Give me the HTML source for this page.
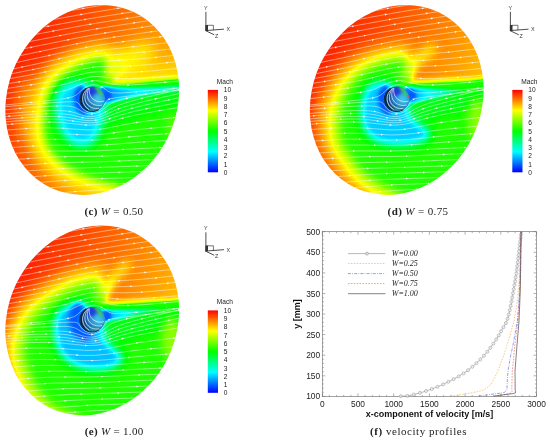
<!DOCTYPE html>
<html><head><meta charset="utf-8"><title>Mach contours and velocity profiles</title>
<style>
html,body{margin:0;padding:0;background:#fff;}
svg{display:block;}
text{font-family:"Liberation Sans",sans-serif;}
.cap{font-family:"Liberation Serif",serif;font-size:11px;fill:#222;}
.leg{font-family:"Liberation Serif",serif;font-style:italic;font-size:8px;fill:#222;}
</style></head><body>
<svg width="550" height="442" viewBox="0 0 550 442">
<defs>
<filter id="cmap" filterUnits="userSpaceOnUse" x="-20" y="-20" width="260" height="260" color-interpolation-filters="sRGB">
<feComponentTransfer>
<feFuncR type="table" tableValues="0 0 0 1 1"/>
<feFuncG type="table" tableValues="0 1 1 1 0"/>
<feFuncB type="table" tableValues="1 1 0 0 0"/>
</feComponentTransfer>
</filter><filter id="b0_6" filterUnits="userSpaceOnUse" x="-60" y="-60" width="340" height="340" color-interpolation-filters="sRGB"><feGaussianBlur stdDeviation="0.6"/></filter><filter id="b0_8" filterUnits="userSpaceOnUse" x="-60" y="-60" width="340" height="340" color-interpolation-filters="sRGB"><feGaussianBlur stdDeviation="0.8"/></filter><filter id="b1" filterUnits="userSpaceOnUse" x="-60" y="-60" width="340" height="340" color-interpolation-filters="sRGB"><feGaussianBlur stdDeviation="1"/></filter><filter id="b1_5" filterUnits="userSpaceOnUse" x="-60" y="-60" width="340" height="340" color-interpolation-filters="sRGB"><feGaussianBlur stdDeviation="1.5"/></filter><filter id="b2" filterUnits="userSpaceOnUse" x="-60" y="-60" width="340" height="340" color-interpolation-filters="sRGB"><feGaussianBlur stdDeviation="2"/></filter><filter id="b2_5" filterUnits="userSpaceOnUse" x="-60" y="-60" width="340" height="340" color-interpolation-filters="sRGB"><feGaussianBlur stdDeviation="2.5"/></filter><filter id="b3" filterUnits="userSpaceOnUse" x="-60" y="-60" width="340" height="340" color-interpolation-filters="sRGB"><feGaussianBlur stdDeviation="3"/></filter><filter id="b3_5" filterUnits="userSpaceOnUse" x="-60" y="-60" width="340" height="340" color-interpolation-filters="sRGB"><feGaussianBlur stdDeviation="3.5"/></filter><filter id="b4" filterUnits="userSpaceOnUse" x="-60" y="-60" width="340" height="340" color-interpolation-filters="sRGB"><feGaussianBlur stdDeviation="4"/></filter><filter id="b4_5" filterUnits="userSpaceOnUse" x="-60" y="-60" width="340" height="340" color-interpolation-filters="sRGB"><feGaussianBlur stdDeviation="4.5"/></filter><filter id="b5" filterUnits="userSpaceOnUse" x="-60" y="-60" width="340" height="340" color-interpolation-filters="sRGB"><feGaussianBlur stdDeviation="5"/></filter><filter id="b6" filterUnits="userSpaceOnUse" x="-60" y="-60" width="340" height="340" color-interpolation-filters="sRGB"><feGaussianBlur stdDeviation="6"/></filter><filter id="b7" filterUnits="userSpaceOnUse" x="-60" y="-60" width="340" height="340" color-interpolation-filters="sRGB"><feGaussianBlur stdDeviation="7"/></filter><filter id="b8" filterUnits="userSpaceOnUse" x="-60" y="-60" width="340" height="340" color-interpolation-filters="sRGB"><feGaussianBlur stdDeviation="8"/></filter><filter id="b9" filterUnits="userSpaceOnUse" x="-60" y="-60" width="340" height="340" color-interpolation-filters="sRGB"><feGaussianBlur stdDeviation="9"/></filter><filter id="b10" filterUnits="userSpaceOnUse" x="-60" y="-60" width="340" height="340" color-interpolation-filters="sRGB"><feGaussianBlur stdDeviation="10"/></filter><filter id="b12" filterUnits="userSpaceOnUse" x="-60" y="-60" width="340" height="340" color-interpolation-filters="sRGB"><feGaussianBlur stdDeviation="12"/></filter><filter id="b14" filterUnits="userSpaceOnUse" x="-60" y="-60" width="340" height="340" color-interpolation-filters="sRGB"><feGaussianBlur stdDeviation="14"/></filter><filter id="b16" filterUnits="userSpaceOnUse" x="-60" y="-60" width="340" height="340" color-interpolation-filters="sRGB"><feGaussianBlur stdDeviation="16"/></filter><radialGradient id="sphg" cx="0.66" cy="0.5" r="0.78"><stop offset="0" stop-color="#34a8e0"/><stop offset="0.5" stop-color="#2878cc"/><stop offset="1" stop-color="#123470"/></radialGradient><clipPath id="sphc"><circle r="12.5"/></clipPath><clipPath id="disk"><ellipse cx="92.25" cy="99.9" rx="97.2" ry="84.4" transform="rotate(-64.7 92.25 99.9)"/></clipPath><linearGradient id="cbar" x1="0" y1="0" x2="0" y2="1">
<stop offset="0" stop-color="#f00"/><stop offset="0.25" stop-color="#ff0"/><stop offset="0.5" stop-color="#0f0"/><stop offset="0.75" stop-color="#0ff"/><stop offset="1" stop-color="#00f"/></linearGradient><linearGradient id="basec" gradientUnits="userSpaceOnUse" x1="20" y1="10" x2="185" y2="95"><stop offset="0" stop-color="#fcfcfc"/><stop offset="1" stop-color="#cccccc"/></linearGradient><mask id="Kc" maskUnits="userSpaceOnUse" x="-20" y="-20" width="270" height="280"><rect x="-20" y="-20" width="270" height="280" fill="#fff"/><path d="M96 85.3L105 85L125 84.4L160 80.9L178 79.3L232 74.8L232 36L117.8 62L114.4 73L111.5 82Z" fill="#000" filter="url(#b2_5)"/><path d="M91 86.8L96 85.3L105 85L125 84.4L160 80.9L178 79.3L232 74.8L232 112L91 112Z" fill="#fff"/></mask><linearGradient id="wkc" gradientUnits="userSpaceOnUse" x1="104" y1="0" x2="182" y2="0"><stop offset="0.000" stop-color="#212121"/><stop offset="0.410" stop-color="#3b3b3b"/><stop offset="0.846" stop-color="#4f4f4f"/><stop offset="1.000" stop-color="#595959"/></linearGradient><linearGradient id="based" gradientUnits="userSpaceOnUse" x1="20" y1="10" x2="185" y2="95"><stop offset="0" stop-color="#fcfcfc"/><stop offset="1" stop-color="#cccccc"/></linearGradient><mask id="Kd" maskUnits="userSpaceOnUse" x="-20" y="-20" width="270" height="280"><rect x="-20" y="-20" width="270" height="280" fill="#fff"/><path d="M93.6 85.3L103 84.4L115 83.6L160.5 81.5L176.5 79.6L232 74L232 36L114 61L107 73L104.5 82Z" fill="#000" filter="url(#b2_5)"/><path d="M88.6 86.8L93.6 85.3L103 84.4L115 83.6L160.5 81.5L176.5 79.6L232 74L232 112L88.6 112Z" fill="#fff"/></mask><linearGradient id="wkd" gradientUnits="userSpaceOnUse" x1="104" y1="0" x2="158" y2="0"><stop offset="0.000" stop-color="#212121"/><stop offset="0.296" stop-color="#3b3b3b"/><stop offset="0.667" stop-color="#525252"/><stop offset="1.000" stop-color="#757575"/></linearGradient><linearGradient id="basee" gradientUnits="userSpaceOnUse" x1="20" y1="10" x2="185" y2="95"><stop offset="0" stop-color="#fcfcfc"/><stop offset="1" stop-color="#cccccc"/></linearGradient><mask id="Ke" maskUnits="userSpaceOnUse" x="-20" y="-20" width="270" height="280"><rect x="-20" y="-20" width="270" height="280" fill="#fff"/><path d="M93.6 84L105 84L114.5 83.9L125 83.5L160 81.3L176.8 80L232 76.5L232 36L109.8 62L106 72.6L104 81Z" fill="#000" filter="url(#b2_5)"/><path d="M88.6 85.5L93.6 84L105 84L114.5 83.9L125 83.5L160 81.3L176.8 80L232 76.5L232 112L88.6 112Z" fill="#fff"/></mask><linearGradient id="wke" gradientUnits="userSpaceOnUse" x1="104" y1="0" x2="160" y2="0"><stop offset="0.000" stop-color="#262626"/><stop offset="0.375" stop-color="#404040"/><stop offset="0.732" stop-color="#5c5c5c"/><stop offset="1.000" stop-color="#7a7a7a"/></linearGradient>
</defs>
<rect width="550" height="442" fill="#fff"/>
<g transform="translate(0 0)">
<g clip-path="url(#disk)">
<g filter="url(#cmap)">
<rect x="-20" y="-20" width="270" height="280" fill="url(#basec)"/>
<ellipse cx="27" cy="108" rx="9" ry="32" fill="#d6d6d6" opacity="0.9" filter="url(#b8)"/>
<path d="M103.2 42.5C99.8 41.7 98.1 42.7 95.4 43.1C92.7 43.5 90.3 44 87 44.9C83.7 45.8 79.6 47 75.6 48.7C71.7 50.4 67.5 52.6 63.5 55.1C59.4 57.5 55.1 60.1 51.2 63.3C47.4 66.5 43.5 70.1 40.4 74.2C37.3 78.2 34.6 82.8 32.6 87.5C30.6 92.2 29.4 97.4 28.3 102.2C27.3 107 26.7 111.6 26.3 116.4C25.9 121.1 25.6 126 25.9 130.8C26.3 135.6 27.2 140.3 28.5 144.9C29.9 149.5 31.5 154.1 34.3 158.5C37 162.9 41.1 167.5 44.9 171.4C48.8 175.2 52.9 178.6 57.3 181.7C61.8 184.8 66.7 187.6 71.7 190C76.8 192.3 82.5 194.2 87.4 195.9C92.3 197.6 97 199 101 200.1C105.1 201.2 108.1 201.2 111.9 202.7C115.6 204.2 116.6 203.7 123.5 208.8C130.3 214 134.9 226.6 153 233.5C171 240.3 218.8 277.9 232 250C245.2 222.1 242.3 97 232 66C221.7 35 187 65.3 170 64C153 62.7 139 60.7 130 58C121 55.3 120.5 50.6 116 48C111.5 45.4 106.6 43.3 103.2 42.5Z" fill="#c9c9c9" opacity="1" filter="url(#b6)"/>
<ellipse cx="128" cy="60" rx="30" ry="13" transform="rotate(-25 128 60)" fill="#c2c2c2" filter="url(#b7)"/>
<ellipse cx="116" cy="68" rx="10" ry="8" transform="rotate(-20 116 68)" fill="#bababa" filter="url(#b4)"/>
<ellipse cx="140" cy="80" rx="36" ry="2.2" transform="rotate(-4.3 140 80)" fill="#bfbfbf" filter="url(#b2)"/>
<path d="M103.9 52.4C101.9 51.6 99.2 52.6 96.8 52.9C94.5 53.3 92.6 53.6 89.7 54.4C86.8 55.3 83.1 56.3 79.6 57.8C76 59.3 72.2 61.4 68.5 63.6C64.9 65.7 60.9 68.2 57.5 70.9C54.1 73.7 50.9 76.8 48.2 80.2C45.6 83.6 43.4 87.4 41.7 91.4C40 95.4 38.9 100 38 104.3C37.1 108.6 36.6 112.9 36.2 117.2C35.8 121.5 35.5 125.9 35.8 130.1C36.1 134.2 36.9 138.2 38 142.1C39.2 146 40.4 149.6 42.7 153.3C45 157 48.5 161 51.9 164.4C55.3 167.8 59 170.8 63 173.6C67 176.4 71.3 178.8 75.9 181C80.5 183.2 86 184.9 90.6 186.5C95.3 188.1 99.5 189.4 103.7 190.6C107.9 191.7 111.3 191.8 115.6 193.5C119.9 195.2 122.1 195.5 129.3 200.9C136.6 206.3 142.2 217.7 159.3 225.8C176.4 234 219.9 273.3 232 250C244.1 226.7 242.3 112.7 232 86C221.7 59.3 187 89 170 90C153 91 139.5 92.7 130 92C120.5 91.3 116.3 89.3 113 86C109.7 82.7 110.7 76.7 110 72C109.3 67.3 110 61.3 109 58C108 54.7 105.9 53.3 103.9 52.4Z" fill="#b8b8b8" opacity="0.85" filter="url(#b4_5)"/>
<g filter="url(#b0_6)">
<g mask="url(#Kc)">
<path d="M104.8 67C105 69.3 105.8 70.5 105.4 73C105 75.5 104.1 80 102.5 82C100.9 84 95.4 85.7 96 85.3C96.6 84.9 101 81.1 106 79.5C111 77.9 114 77 126 75.5C138 74 160.3 72.1 178 70.5C195.7 68.9 223 36.1 232 66C241 95.9 243.2 224.4 232 250C220.8 275.6 181 228.6 164.7 219.3C148.5 210 142.1 199.7 134.4 194C126.7 188.4 123.5 187.6 118.8 185.6C114 183.7 110.2 183.6 106 182.4C101.8 181.2 97.8 180 93.4 178.5C89 177 83.8 175.3 79.5 173.3C75.3 171.3 71.4 169.1 67.8 166.6C64.2 164.1 60.9 161.3 57.9 158.4C54.9 155.4 51.8 151.9 49.9 148.8C47.9 145.7 47.1 142.9 46.2 139.7C45.3 136.5 44.5 133.1 44.3 129.5C44 125.8 44.3 121.8 44.7 117.9C45 114 45.6 109.9 46.3 106C47.1 102.1 47.9 98.1 49.2 94.6C50.6 91.1 52.3 88 54.5 85.1C56.7 82.1 59.4 79.4 62.3 76.8C65.3 74.3 68.9 71.9 72.3 69.8C75.6 67.7 79.2 65.8 82.4 64.3C85.6 62.9 89 61.9 91.6 61.1C94.2 60.3 95.7 60 97.8 59.6C99.9 59.3 103.2 57.8 104.4 59C105.6 60.2 104.6 64.7 104.8 67Z" fill="#878787" filter="url(#b3_5)"/>
<path d="M100 100L150 92L182 88L182 104L150 112L120 122L100 124Z" fill="#737373" opacity="0.6" filter="url(#b5)"/>
<path d="M97 89C95.8 88.5 94.7 87.8 93 87C91.3 86.2 89.2 85.2 87 84.5C84.8 83.8 82.7 82.8 80 82.5C77.3 82.2 73.8 81.8 71 82.5C68.2 83.2 65.2 84.7 63 86.5C60.8 88.3 59.2 91.1 58 93.5C56.8 95.9 56.2 97.6 56 101C55.8 104.4 55.8 109.7 56.5 114C57.2 118.3 58.2 122.8 60 127C61.8 131.2 64.3 135.8 67.5 139C70.7 142.2 75.2 145.2 79 146C82.8 146.8 87 145.7 90 144C93 142.3 95.2 139.2 97 136C98.8 132.8 99.8 128.7 101 125C102.2 121.3 103.5 117.2 104 114C104.5 110.8 104.7 108.7 104 106C103.3 103.3 100.7 100.7 100 98C99.3 95.3 100.5 91.5 100 90C99.5 88.5 98.2 89.5 97 89Z" fill="#666666" opacity="0.55" filter="url(#b8)"/>
<path d="M97 89C95.8 88.5 94.7 87.8 93 87C91.3 86.2 89.2 85.2 87 84.5C84.8 83.8 82.7 82.8 80 82.5C77.3 82.2 73.8 81.8 71 82.5C68.2 83.2 65.2 84.7 63 86.5C60.8 88.3 59.2 91.1 58 93.5C56.8 95.9 56.2 97.6 56 101C55.8 104.4 55.8 109.7 56.5 114C57.2 118.3 58.2 122.8 60 127C61.8 131.2 64.3 135.8 67.5 139C70.7 142.2 75.2 145.2 79 146C82.8 146.8 87 145.7 90 144C93 142.3 95.2 139.2 97 136C98.8 132.8 99.8 128.7 101 125C102.2 121.3 103.5 117.2 104 114C104.5 110.8 104.7 108.7 104 106C103.3 103.3 100.7 100.7 100 98C99.3 95.3 100.5 91.5 100 90C99.5 88.5 98.2 89.5 97 89Z" fill="#363636" filter="url(#b4)"/>
<path d="M100 87.3C103.3 84.5 114 87.4 120 87.5C126 87.6 130.7 87.8 136 87.8C141.3 87.8 146.6 87.5 152 87.3C157.4 87 163.6 86.6 168.6 86.3C173.6 86 179.8 84.7 182 85.4C184.2 86.1 184.2 89.4 182 90.5C179.8 91.6 173.6 91.4 168.6 92C163.6 92.6 157.4 93.5 152 94.3C146.6 95.1 141.4 96 136 97C130.6 98 124.7 99.3 119.5 100.5C114.3 101.7 108.2 103.3 105 104C101.8 104.7 100.8 107.3 100 104.5C99.2 101.7 96.7 90.1 100 87.3Z" fill="url(#wkc)" filter="url(#b1_5)"/>
<path d="M81.0 88.6A15.5 15.5 0 0 0 83.6 111.7" fill="none" stroke="#141414" stroke-width="7" stroke-linecap="round" filter="url(#b2)"/>
<ellipse cx="107" cy="95.5" rx="4.5" ry="5" fill="#171717" filter="url(#b1_5)"/>
<ellipse cx="174" cy="128" rx="6" ry="14" fill="#989898" filter="url(#b5)"/>
</g>
</g>
</g>
<path d="M65.5 11.5L110.5 3.8M50.5 20L89.5 13L125.5 7.1M41.5 27.4L90.5 18.5L136.5 11.2M33.5 34.8L70.5 27.8L91.5 24L112.5 20.6L144.5 15.7M27.5 42L71.5 33.4L92.5 29.5L114.5 25.9L150.5 20.4M22.5 49L73.5 38.7L92.5 35.1L115.5 31.3L155.5 25.3M18.5 56L75.5 44L93.5 40.5L114.5 37.1L160.5 30.4M14.5 62.9L39.5 57.6L77.5 49.2L94.5 45.9L111.5 43.2L164.4 36.3M11.5 69.3L40.5 63.1L77.5 54.6L91.5 51.8L106.4 49.7L142.4 45.7L168.4 42.5M9.5 74.2L40.5 68L77.4 59.7L90.4 57.3L105.4 55.5L145.4 51.9L172.4 48.8M8.5 78.9L38.5 73.4L52.5 70.5L78.4 64.7L91.4 62.4L103.4 61.2L127.3 59.8L141.3 58.7L156.3 57.3L175.3 55.2M6.5 83.9L27.5 80.4L44.5 77.3L59.5 74.2L81.3 69.2L91.3 67.5L96.3 66.9L102.3 66.6L124.2 66.1L137.2 65.5L154.2 64.1L177.2 61.7M5.5 88.7L32.5 84.6L51.5 81.3L64.4 78.6L83.2 73.8L88.2 72.8L92.2 72.2L96.2 71.9L101.2 71.7L121 72.3L133.9 72.1L151.9 70.9L178.9 68.3M4.5 93.6L37.5 89.1L56.5 86L67.4 83.5L85 78.1L89 77.2L92 76.8L96 76.5L99.9 76.6L117.6 78.5L123.5 78.7L129.5 78.7L137.5 78.4L148.4 77.7L179.4 75.1M4.5 98.9L43.5 94.2L53.5 92.8L61.5 91.3L66.4 90.2L71.3 88.6L81.7 83.9L85.5 82.4L89.4 81.3L92.4 80.8L95.4 80.7L99.4 81L103.2 81.8L109.8 83.5L113.6 84.3L118.5 84.9L124.4 85.1L132.4 84.9L143.4 84.2L180.4 80.9M3.5 105.2L51.5 100.3L62.5 98.9L69.5 97.6L73.4 96.4L76.1 95L77.8 93.7L82.4 89.4L85.8 87L89.6 85.4L92.6 84.8L95.6 84.8L97.5 85.2L99.4 85.7L102.8 87.4L107.4 90.8L109 91.8L111.8 92.7L115.7 93L122.7 92.9L132.7 92.1L180.7 87.6M3.5 106.9L30.5 104.4L48.5 102.9L66.5 101.8L74.5 101.7L76.4 102L78.1 102.9L82.2 108.3L83.7 109.6L85.3 110.6L87.1 111.4L88.9 111.9L90.9 112.2L92.9 112.1L94.9 111.8L96.8 111.1L98.7 110.2L100.4 109L101.9 107.6L103.3 106L106.8 100.8L108.4 99.5L110.3 98.8L115.3 97.8L124.3 96.6L181.3 89.9M3.5 110L27.5 107.8L43.5 106.6L57.5 105.9L66.5 105.9L70.4 106.3L74.2 107.2L76.9 108.4L82.8 111.9L86.4 113.3L90.3 114L93.2 113.8L96.2 113.2L100 111.6L102.7 109.8L107.7 105.8L110.3 103.9L114.1 102L118 100.7L125 98.8L136 96.3L181 87.4M3.5 114L24.5 112.2L38.5 111.2L50.5 110.6L59.5 110.6L66.4 111L71.3 111.8L75.1 112.8L82.5 115.3L86.4 116.3L90.3 116.6L94.3 116.3L97.3 115.6L100.2 114.6L104 112.8L110.5 109L114.3 107.1L119.2 105L125.1 103L133.1 100.7L144.1 97.8L181.1 89M3.5 116.7L35.5 114.1L46.5 113.6L56.5 113.5L63.4 113.9L69.3 114.6L73.2 115.3L81.8 117.5L85.7 118.2L89.7 118.6L93.7 118.4L97.6 117.6L101.6 116.4L117 109.4L122.9 107.3L128.9 105.5L147.8 100.6L180.8 93.2M3.5 119.4L33.5 117L44.5 116.5L53.5 116.5L60.5 116.7L67.4 117.3L82 119.9L85.9 120.5L90.9 120.6L94.9 120.3L97.9 119.8L101.8 118.7L119.4 112L131.3 108.4L150.3 103.8L180.3 97.5M4.5 121.9L32.5 119.8L42.5 119.3L50.5 119.2L58.5 119.4L65.4 119.9L81.1 122.2L86.1 122.7L91.1 122.8L95.1 122.5L99.1 121.8L103 120.8L120.7 115L133.7 111.5L151.6 107.7L179.6 102.3M4.5 124.7L30.5 122.7L40.5 122.3L48.5 122.1L56.5 122.3L63.4 122.7L85.2 125L90.2 125.1L95.2 124.8L99.2 124.3L104.1 123.3L122.9 118L135.9 115L153.9 111.6L179.9 107.2M5.5 130.1L29.5 128.3L46.5 127.7L60.4 128.1L84.3 129.8L90.3 129.9L95.3 129.7L100.3 129.2L105.3 128.5L126.2 124.3L139.1 122.1L155.1 119.9L177.1 117.2M6.5 135.7L30.5 134L46.5 133.4L59.5 133.6L84.4 134.9L90.4 134.9L96.4 134.7L107.4 133.7L128.3 130.8L141.3 129.2L156.3 127.7L174.3 126.2M8.5 141.6L30.5 140L46.5 139.4L59.5 139.4L84.4 140.2L97.4 139.9L108.4 139.1L143.4 135.5L171.3 133.3M10.5 147.6L32.5 146L48.5 145.3L60.5 145.2L85.4 145.5L99.4 145.2L110.4 144.5L144.4 141.8L168.4 140.4M13.5 153.5L32.5 152.1L47.5 151.3L59.5 151L85.5 151L99.5 150.7L164.4 147.4M16.5 159.4L37.5 157.9L53.5 157L64.5 156.7L101.5 156.2L160.4 153.5M20.5 165.3L42.5 163.7L59.5 162.8L105.5 161.6L155.5 159.5M25.5 171.1L50.5 169.3L67.5 168.3L110.5 167L150.5 165.5M31.5 176.8L58.5 174.8L75.5 173.8L144.5 171.4M38.5 182.5L66.5 180.3L82.5 179.3L137.5 177.4M47.5 187.9L88.5 184.8L102.5 184.1L128.5 183.3M59.5 192.9L92.5 190.3L116.5 189.2" fill="none" stroke="#fff" stroke-width="0.85" stroke-opacity="0.55"/>
<path d="M84.8 8.1L82.7 9.4L82.3 7.6ZM82.8 14.2L80.7 15.5L80.3 13.6ZM119.8 8L117.6 9.3L117.3 7.4ZM49.8 25.9L47.7 27.2L47.3 25.4ZM86.8 19.2L84.7 20.5L84.3 18.6ZM123.8 13.1L121.6 14.4L121.3 12.5ZM54.8 30.8L52.7 32.1L52.3 30.2ZM91.8 24L89.7 25.3L89.3 23.4ZM128.8 18.1L126.6 19.4L126.3 17.5ZM61.7 35.3L59.7 36.6L59.3 34.8ZM98.8 28.4L96.6 29.8L96.3 27.9ZM135.8 22.6L133.6 23.9L133.3 22ZM32.7 47L30.7 48.4L30.3 46.5ZM69.7 39.5L67.7 40.9L67.3 39ZM106.7 32.7L104.6 34L104.3 32.1ZM143.7 27.1L141.6 28.4L141.3 26.5ZM41.7 51.2L39.7 52.6L39.3 50.7ZM78.7 43.4L76.7 44.7L76.3 42.9ZM115.7 36.9L113.6 38.2L113.3 36.3ZM152.7 31.6L150.6 32.8L150.3 30.9ZM50.7 55.1L48.7 56.6L48.3 54.7ZM87.7 47.1L85.6 48.5L85.3 46.6ZM124.7 41.5L122.6 42.7L122.3 40.8ZM161.7 36.7L159.6 37.9L159.3 36ZM23.7 66.7L21.7 68.1L21.3 66.3ZM60.7 58.5L58.7 59.9L58.3 58.1ZM97.7 50.8L95.6 52.1L95.3 50.2ZM134.7 46.6L132.5 47.8L132.3 45.9ZM34.7 69.2L32.7 70.6L32.3 68.7ZM71.7 61L69.7 62.4L69.2 60.6ZM108.7 55.2L106.5 56.3L106.3 54.4ZM145.7 51.9L143.5 53.1L143.3 51.2ZM46.7 71.7L44.7 73.1L44.3 71.2ZM83.7 63.7L81.6 65L81.2 63.2ZM120.6 60.2L118.4 61.3L118.3 59.4ZM157.6 57.2L155.4 58.4L155.2 56.5ZM20.8 81.5L18.7 82.9L18.3 81ZM57.7 74.6L55.7 76L55.3 74.1ZM94.6 67.1L92.4 68.3L92.2 66.4ZM131.5 65.8L129.2 66.9L129.1 65ZM168.4 62.7L166.3 63.8L166.1 62ZM32.8 84.6L30.6 85.9L30.3 84ZM69.6 77.3L67.6 78.8L67.2 76.9ZM106.5 71.8L104.1 72.7L104.2 70.8ZM143.2 71.5L141 72.6L140.9 70.7ZM44.8 88L42.6 89.3L42.3 87.4ZM81.3 79.1L79.4 80.7L78.8 78.9ZM117.9 78.5L115.5 79.3L115.7 77.4ZM154.7 77.2L152.5 78.4L152.4 76.5ZM20.8 97L18.6 98.2L18.4 96.3ZM57.8 92.1L55.6 93.4L55.3 91.5ZM93.7 80.7L91.5 81.9L91.3 80ZM129.7 85L127.4 86L127.4 84.1ZM166.7 82.2L164.5 83.3L164.3 81.4ZM32.8 102.3L30.6 103.4L30.4 101.5ZM69.7 97.6L67.7 99L67.3 97.1ZM103.1 87.6L100.7 87.3L101.6 85.7ZM138 91.7L135.8 92.8L135.6 90.9ZM175 88.1L172.8 89.3L172.6 87.4ZM45.8 103.1L43.6 104.2L43.4 102.3ZM110.6 98.7L108.7 100.4L108.1 98.6ZM147.6 93.8L145.4 95.1L145.2 93.2ZM21.8 108.3L19.6 109.5L19.4 107.6ZM58.8 105.9L56.5 106.9L56.5 105ZM93.5 113.8L91.3 114.9L91.2 113ZM128.2 98L126.2 99.5L125.8 97.6ZM165.2 90.4L163.2 91.8L162.8 90ZM34.8 111.4L32.6 112.5L32.4 110.6ZM71.6 111.9L69.2 112.3L69.6 110.5ZM106.9 111.1L105.4 113.1L104.4 111.4ZM143.3 98L141.3 99.5L140.9 97.7ZM180.3 89.2L178.3 90.7L177.9 88.8ZM10.8 116L8.6 117.2L8.4 115.3ZM47.8 113.6L45.5 114.6L45.5 112.7ZM84.1 118L81.6 118.4L82 116.6ZM120.1 108.2L118.3 109.9L117.6 108.2ZM157.1 98.5L155.1 99.9L154.6 98.1ZM23.8 117.7L21.6 118.8L21.4 116.9ZM60.8 116.7L58.4 117.5L58.5 115.6ZM97.2 119.9L95.1 121.3L94.8 119.4ZM133.6 107.8L131.6 109.3L131.1 107.5ZM170.6 99.5L168.5 100.9L168.1 99.1ZM37.8 119.5L35.5 120.6L35.5 118.7ZM74.6 121.2L72.2 121.8L72.5 119.9ZM111.1 118.2L109.2 119.9L108.6 118.1ZM147.9 108.4L145.8 109.8L145.4 107.9ZM13.8 123.9L11.6 125.1L11.4 123.2ZM50.8 122.1L48.5 123.1L48.5 121.2ZM87.5 125.1L85.1 126L85.2 124.1ZM124.2 117.7L122.2 119.2L121.7 117.3ZM161.1 110.3L159 111.6L158.7 109.8ZM27.8 128.4L25.6 129.5L25.4 127.6ZM64.7 128.3L62.4 129.1L62.5 127.2ZM101.6 129L99.4 130.3L99.2 128.4ZM138.4 122.2L136.3 123.5L136 121.6ZM175.4 117.4L173.2 118.6L173 116.7ZM41.8 133.5L39.5 134.5L39.5 132.6ZM78.7 134.7L76.4 135.5L76.5 133.6ZM115.6 132.6L113.5 133.9L113.2 132ZM152.6 128.1L150.4 129.2L150.2 127.3ZM19.8 140.8L17.6 141.9L17.4 140ZM56.8 139.4L54.5 140.3L54.5 138.4ZM93.7 140.1L91.4 141.1L91.4 139.2ZM130.7 136.7L128.5 137.9L128.3 136ZM167.6 133.6L165.4 134.7L165.3 132.8ZM34.8 145.9L32.5 147L32.4 145.1ZM71.8 145.4L69.4 146.3L69.5 144.4ZM108.7 144.7L106.5 145.8L106.4 143.9ZM145.7 141.8L143.5 142.9L143.3 141ZM50.8 151.2L48.5 152.2L48.5 150.3ZM87.8 151L85.5 151.9L85.5 150ZM124.7 149.4L122.5 150.5L122.4 148.6ZM161.7 147.5L159.5 148.5L159.4 146.6ZM29.8 158.4L27.6 159.5L27.4 157.6ZM66.8 156.7L64.5 157.7L64.5 155.8ZM103.8 156.1L101.5 157.1L101.4 155.2ZM140.8 154.3L138.5 155.4L138.4 153.5ZM46.8 163.4L44.5 164.5L44.4 162.6ZM83.8 162.1L81.5 163.1L81.5 161.2ZM120.8 161L118.5 162L118.4 160.1ZM64.8 168.5L62.5 169.5L62.4 167.6ZM101.8 167.3L99.5 168.3L99.5 166.4ZM138.8 165.9L136.5 167L136.4 165.1ZM46.8 175.7L44.6 176.8L44.4 174.9ZM83.8 173.5L81.5 174.5L81.5 172.6ZM120.8 172.3L118.5 173.4L118.5 171.5ZM66.8 180.3L64.6 181.4L64.4 179.5ZM103.8 178.5L101.5 179.5L101.5 177.6ZM88.8 184.8L86.5 185.9L86.4 184ZM125.8 183.4L123.5 184.4L123.5 182.5ZM76.8 191.5L74.6 192.6L74.4 190.7ZM113.8 189.3L111.5 190.3L111.5 188.4Z" fill="#fff" fill-opacity="0.95"/>
</g>
<g transform="translate(92.5 99.0)">
<circle r="12.5" fill="url(#sphg)"/>
<g clip-path="url(#sphc)">
<ellipse cx="-1.5" cy="-7.5" rx="5.5" ry="4.5" fill="#1f36e0" opacity="0.85" filter="url(#b1_5)"/>
<ellipse cx="6.5" cy="0.5" rx="5" ry="6" fill="#3fd0ea" opacity="0.75" filter="url(#b2)"/>
<ellipse cx="0" cy="9.5" rx="9" ry="3.6" fill="#2a8f9f" opacity="0.75" filter="url(#b1_5)"/>
<path d="M3.2 -12.5C6 -10 8 -7 9.2 -3.5" stroke="#42d84a" stroke-width="3.2" fill="none" opacity="0.85" filter="url(#b1)"/>
<g stroke="#06141c" fill="none" opacity="0.75">
<path d="M-6 -10.6C-13.6 -4.5 -13 7 -4.5 11.6" stroke-width="1.5"/>
<path d="M-4.6 -10.4C-10.6 -4.4 -10.4 5.4 -2.4 9.8" stroke-width="0.9" opacity="0.8"/>
<path d="M-4 -10.6C-8.2 -4 -7.6 3.6 -0.4 7.2" stroke-width="0.7" opacity="0.55"/>
</g>
<g stroke="#fff" stroke-width="0.7" fill="none" opacity="0.9">
<path d="M-5 -10.2C-12 -4.8 -11.6 6 -3.4 10.6"/>
<path d="M-4.4 -10.6C-9.4 -4 -8.8 4.6 -1.2 8.4C1.6 9.6 4.2 9.8 6.4 9.2"/>
<path d="M-3.8 -10.9C-6.6 -4 -5.6 2.6 1.6 5.6C4.6 6.7 7.4 6.7 9.6 6"/>
<path d="M-3.2 -11.1C-3.8 -5 -2 0 4.6 2.2C7.4 3 9.8 2.8 11.6 2"/>
</g>
</g>
<path d="M-6.62 -10.60A12.5 12.5 0 1 0 6.25 10.83" fill="none" stroke="#0a1a22" stroke-width="1" opacity="0.8"/>
</g>
<g stroke="#3a3a3a" stroke-width="0.9" fill="none" stroke-linecap="round">
<path d="M205.9 30.6V12.2M208 30.4L223.6 29.2M205.9 30.8L213.9 34.6"/>
<path d="M207.6 25.3h5.8v4.6" stroke-width="0.7"/>
</g>
<path d="M205.4 25h2.6v6h-2.6z" fill="#333"/>
<g font-size="5.4" fill="#3a3a3a" text-anchor="middle"><text x="205.9" y="9.6">Y</text><text x="228.2" y="31.1">X</text><text x="216.6" y="37.9">Z</text></g>
<rect x="207.8" y="89.9" width="10.2" height="82.4" fill="url(#cbar)"/>
<text x="224.8" y="83.8" font-size="6.6" text-anchor="middle" fill="#222">Mach</text>
<g font-size="6.6" fill="#222">
<text x="223.8" y="174.9">0</text>
<text x="223.8" y="166.6">1</text>
<text x="223.8" y="158.4">2</text>
<text x="223.8" y="150.1">3</text>
<text x="223.8" y="141.9">4</text>
<text x="223.8" y="133.6">5</text>
<text x="223.8" y="125.3">6</text>
<text x="223.8" y="117.1">7</text>
<text x="223.8" y="108.8">8</text>
<text x="223.8" y="100.6">9</text>
<text x="223.8" y="92.3">10</text>
</g>
</g>
<g transform="translate(304.5 0)">
<g clip-path="url(#disk)">
<g filter="url(#cmap)">
<rect x="-20" y="-20" width="270" height="280" fill="url(#based)"/>
<path d="M106.5 46.3C104.3 44.9 99.3 43.8 95.2 43.6C91 43.4 85.9 44.4 81.6 45.2C77.3 45.9 73.3 47 69.5 48.2C65.6 49.4 62.1 51 58.5 52.6C55 54.3 51.4 56.2 48.2 58.2C45.1 60.3 42.2 62.7 39.4 65.1C36.7 67.5 34.2 69.8 31.8 72.5C29.4 75.1 27.1 78 25.2 81C23.2 83.9 21.6 87.1 20.1 90.2C18.7 93.3 17.4 96.5 16.4 99.7C15.5 102.9 15 106.1 14.6 109.2C14.2 112.4 14.1 115.5 14.1 118.6C14 121.7 14 124.5 14.3 127.8C14.6 131 14.8 134.1 15.8 138.3C16.8 142.5 18.2 148.4 20.4 152.9C22.6 157.4 26.2 161.2 29.3 165.4C32.4 169.6 35.2 173.9 38.8 177.9C42.4 181.9 47.1 186.2 50.9 189.3C54.7 192.4 58.1 194.2 61.6 196.4C65.1 198.6 67.9 200.4 71.9 202.5C75.9 204.6 78.3 205.4 85.6 209C92.9 212.6 103.9 218.1 115.5 223.9C127.2 229.8 136.1 239.6 155.5 243.9C174.9 248.3 219.3 275.3 232 250C244.7 224.7 242.3 118.7 232 92C221.7 65.3 187 90.3 170 90C153 89.7 140.3 90.7 130 90C119.7 89.3 112.2 89.7 108 86C103.8 82.3 105 73.7 105 68C105 62.3 107.8 55.6 108 52C108.2 48.4 108.6 47.7 106.5 46.3Z" fill="#cccccc" opacity="1" filter="url(#b7)"/>
<ellipse cx="106" cy="69" rx="17" ry="5" transform="rotate(-55 106 69)" fill="#bababa" filter="url(#b3)"/>
<ellipse cx="121" cy="54" rx="14" ry="6" transform="rotate(-40 121 54)" fill="#c4c4c4" filter="url(#b5)"/>
<ellipse cx="135" cy="80.5" rx="34" ry="2" transform="rotate(-3 135 80.5)" fill="#c2c2c2" filter="url(#b2)"/>
<path d="M104.5 55C103.1 54.1 98.4 52.9 95 52.8C91.5 52.7 87.3 53.7 83.6 54.4C79.9 55.2 76.1 56.2 72.7 57.4C69.3 58.6 66.2 60.1 63.1 61.6C60 63.2 56.9 64.9 54.1 66.8C51.4 68.7 48.9 70.8 46.6 72.9C44.3 75.1 42.1 77.2 40.1 79.5C38.1 81.9 36.3 84.4 34.7 86.9C33.1 89.4 31.8 92.1 30.7 94.8C29.5 97.4 28.6 100.2 27.8 102.9C27 105.6 26.5 108.3 26 111.1C25.6 113.8 25.3 116.6 25.1 119.4C24.9 122.1 24.8 124.5 24.9 127.4C25 130.2 25 132.8 25.7 136.4C26.4 140 27.3 144.9 29.1 148.9C30.9 152.9 34.1 156.3 36.8 160.2C39.5 164.1 42.2 168.5 45.4 172.4C48.6 176.2 52.7 180.2 56.1 183.1C59.6 186 62.6 187.7 65.9 189.8C69.1 191.8 71.7 193.4 75.5 195.5C79.4 197.5 81.8 198.3 89.1 201.9C96.3 205.5 107.4 211 119.1 216.9C130.7 222.7 140.2 231.4 159.1 236.9C177.9 242.4 219.8 275.1 232 250C244.2 224.9 242.3 112.7 232 86C221.7 59.3 187 89 170 90C153 91 140.2 92.7 130 92C119.8 91.3 113.3 89.3 109 86C104.7 82.7 105 76.7 104 72C103 67.3 102.9 60.8 103 58C103.1 55.2 105.8 55.8 104.5 55Z" fill="#adadad" opacity="0.8" filter="url(#b5)"/>
<g filter="url(#b0_6)">
<g mask="url(#Kd)">
<path d="M101 66C100.2 67.8 98.9 70.3 98 73C97.1 75.7 96.2 80 95.5 82C94.8 84 92.3 85.9 93.6 85.3C94.8 84.7 98.3 80.2 103 78.5C107.7 76.8 110.8 76.3 122 75C133.2 73.7 151.7 72.2 170 70.5C188.3 68.8 221.7 35.1 232 65C242.3 94.9 243.4 222.8 232 250C220.6 277.2 181.6 234.9 163.5 227.9C145.5 220.9 135.2 213.8 123.5 207.9C111.9 202.1 100.7 196.5 93.5 192.9C86.3 189.4 83.9 188.5 80.2 186.6C76.4 184.7 74.2 183.2 71.2 181.3C68.3 179.5 65.7 178.1 62.6 175.5C59.6 172.9 56 169.4 53 165.9C50.1 162.4 47.5 158 45 154.5C42.5 150.9 39.7 148 38.2 144.7C36.6 141.3 36.1 137.4 35.6 134.5C35 131.6 35 129.4 34.9 127C34.8 124.6 34.9 122.4 35.1 120C35.2 117.7 35.5 115.1 35.9 112.7C36.3 110.3 36.7 108 37.3 105.6C37.9 103.3 38.5 100.9 39.4 98.5C40.3 96.2 41.3 93.9 42.5 91.7C43.8 89.5 45.2 87.4 46.8 85.3C48.5 83.2 50.3 81.2 52.3 79.2C54.3 77.3 56.4 75.3 58.8 73.6C61.2 71.9 64 70.3 66.7 68.9C69.5 67.5 72.3 66.1 75.4 65C78.4 63.9 81.9 62.9 85.2 62.2C88.4 61.4 91.8 60.5 94.8 60.5C97.7 60.6 101.7 61.4 102.8 62.4C103.8 63.3 101.8 64.2 101 66Z" fill="#878787" filter="url(#b4)"/>
<path d="M100 100L150 92L182 88L182 104L150 112L120 122L100 124Z" fill="#737373" opacity="0.6" filter="url(#b5)"/>
<path d="M95 89C93.5 88.5 92.7 87.8 91 87C89.3 86.2 87.2 85.2 85 84.5C82.8 83.8 80.5 82.7 78 82.5C75.5 82.3 72.4 82.7 70 83.5C67.6 84.3 65.2 85.8 63.5 87.5C61.8 89.2 60.5 91.8 59.5 94C58.5 96.2 58 97.7 57.5 101C57 104.3 56.2 109.7 56.5 114C56.8 118.3 57.4 123.2 59 127C60.6 130.8 63 134.3 66 137C69 139.7 72.7 141.7 77 143C81.3 144.3 87.2 144.8 92 145C96.8 145.2 101.7 144.7 106 144C110.3 143.3 114.8 142.3 118 141C121.2 139.7 124.3 138 125 136C125.7 134 124 131.2 122 129C120 126.8 115.7 125 113 123C110.3 121 107.5 119.2 106 117C104.5 114.8 104.3 111.8 104 110C103.7 108.2 104.7 108 104 106C103.3 104 100.7 100.7 100 98C99.3 95.3 100.8 91.5 100 90C99.2 88.5 96.5 89.5 95 89Z" fill="#666666" opacity="0.55" filter="url(#b8)"/>
<path d="M95 89C93.5 88.5 92.7 87.8 91 87C89.3 86.2 87.2 85.2 85 84.5C82.8 83.8 80.5 82.7 78 82.5C75.5 82.3 72.4 82.7 70 83.5C67.6 84.3 65.2 85.8 63.5 87.5C61.8 89.2 60.5 91.8 59.5 94C58.5 96.2 58 97.7 57.5 101C57 104.3 56.2 109.7 56.5 114C56.8 118.3 57.4 123.2 59 127C60.6 130.8 63 134.3 66 137C69 139.7 72.7 141.7 77 143C81.3 144.3 87.2 144.8 92 145C96.8 145.2 101.7 144.7 106 144C110.3 143.3 114.8 142.3 118 141C121.2 139.7 124.3 138 125 136C125.7 134 124 131.2 122 129C120 126.8 115.7 125 113 123C110.3 121 107.5 119.2 106 117C104.5 114.8 104.3 111.8 104 110C103.7 108.2 104.7 108 104 106C103.3 104 100.7 100.7 100 98C99.3 95.3 100.8 91.5 100 90C99.2 88.5 96.5 89.5 95 89Z" fill="#333333" filter="url(#b3_5)"/>
<path d="M100 87.5C102.5 84.8 110.3 87.8 115 88C119.7 88.2 123.3 88.3 128.2 88.6C133.1 88.8 139.6 89.3 144.6 89.5C149.6 89.7 155.8 89.1 158 89.5C160.2 89.9 159.4 91.3 158 92C156.6 92.7 153.1 93 149.5 93.8C145.9 94.6 141.3 95.9 136.4 97C131.5 98.1 125.2 99.2 120 100.3C114.8 101.4 108.6 103 105.3 103.6C102 104.2 100.9 106.7 100 104C99.1 101.3 97.5 90.2 100 87.5Z" fill="url(#wkd)" filter="url(#b1_5)"/>
<path d="M81.0 88.6A15.5 15.5 0 0 0 83.6 111.7" fill="none" stroke="#141414" stroke-width="7" stroke-linecap="round" filter="url(#b2)"/>
<ellipse cx="107" cy="95.5" rx="4.5" ry="5" fill="#171717" filter="url(#b1_5)"/>
<ellipse cx="173" cy="120" rx="9" ry="22" fill="#a3a3a3" filter="url(#b5)"/>
</g>
</g>
</g>
<path d="M65.5 11.5L110.5 3.8M50.5 20L89.5 13L125.5 7.1M41.5 27.4L90.5 18.5L136.5 11.2M33.5 34.8L70.5 27.8L91.5 24L112.5 20.6L144.5 15.7M27.5 42L71.5 33.4L92.5 29.5L114.5 25.9L150.5 20.4M22.5 49L73.5 38.7L92.5 35.1L115.5 31.3L155.5 25.4M18.5 56L75.5 44L93.5 40.5L114.5 37.1L160.5 30.5M14.5 62.8L39.5 57.6L77.5 49.2L93.5 46L110.5 43.4L165.4 36.2M11.5 69.2L39.5 63.2L76.5 54.8L90.5 52L105.4 49.8L142.4 45.8L169.4 42.4M9.5 74L39.5 68.1L76.4 59.9L90.4 57.3L104.4 55.6L144.4 52.1L172.4 48.8M8.5 78.7L37.5 73.4L78.4 64.7L91.4 62.4L103.4 61.2L127.3 59.8L141.3 58.8L156.3 57.3L175.3 55.2M7.5 83.5L29.5 79.8L46.5 76.8L60.4 73.9L81.3 69.2L91.3 67.5L96.3 66.9L102.3 66.6L124.2 66.1L137.2 65.5L154.2 64.1L177.2 61.7M5.5 88.5L33.5 84.3L52.5 81.1L64.4 78.6L83.2 73.8L88.2 72.8L92.2 72.2L96.2 71.9L101.2 71.7L121 72.3L133.9 72.1L151.9 70.9L178.9 68.3M4.5 93.4L40.5 88.5L56.5 86L67.4 83.5L85 78.1L89 77.2L92 76.8L96 76.5L99.9 76.6L117.6 78.5L123.5 78.7L129.5 78.7L137.5 78.4L148.4 77.7L179.4 75.1M4.5 98.8L44.5 94L54.5 92.6L61.5 91.3L66.4 90.2L71.3 88.6L81.7 83.9L85.5 82.4L89.4 81.3L92.4 80.8L95.4 80.7L99.4 81L103.2 81.8L109.8 83.5L113.6 84.3L118.5 84.9L124.4 85.1L132.4 84.9L143.4 84.2L180.4 80.9M3.5 105.2L51.5 100.3L62.5 98.9L69.5 97.6L73.4 96.4L76.1 95L77.8 93.7L82.4 89.4L85.8 87L89.6 85.4L92.6 84.8L95.6 84.8L97.5 85.2L99.4 85.7L102.8 87.4L107.4 90.8L109 91.8L111.8 92.7L115.7 93L122.7 92.9L132.7 92.1L180.7 87.6M3.5 106.6L27.5 104.4L47.5 102.9L66.5 101.8L74.5 101.7L76.4 102L78.1 102.9L82.2 108.3L83.7 109.6L85.3 110.6L87.1 111.4L88.9 111.9L90.9 112.2L92.9 112.1L94.9 111.8L96.8 111.1L98.7 110.2L100.4 109L101.9 107.6L103.3 106L106.8 100.8L108.4 99.5L110.3 98.8L115.3 97.8L124.3 96.6L181.3 89.9M3.5 109.7L24.5 107.8L41.5 106.6L56.5 105.9L66.5 105.9L70.4 106.3L74.2 107.2L76.9 108.4L82.8 111.9L86.4 113.3L90.3 114L93.2 113.8L96.2 113.2L100 111.6L102.7 109.8L107.7 105.8L110.3 103.9L114.1 102L118 100.7L125 98.8L136 96.3L181 87.4M3.5 113.6L22.5 112L36.5 111.1L50.5 110.6L60.5 110.6L66.4 111L71.3 111.8L75.1 112.8L82.5 115.3L86.4 116.3L90.3 116.6L93.3 116.5L96.3 115.9L100.2 114.6L104 112.8L110.5 109L114.3 107.1L119.2 105L125.1 103L133.1 100.7L144.1 97.8L181.1 89M3.5 116.3L21.5 114.8L34.5 113.9L46.5 113.5L56.5 113.5L63.4 113.8L69.3 114.6L73.2 115.3L81.8 117.5L85.7 118.2L89.7 118.6L93.7 118.4L97.6 117.6L101.6 116.4L117 109.4L122.9 107.3L128.9 105.5L147.8 100.6L180.8 93.2M3.5 119L20.5 117.6L32.5 116.8L43.5 116.4L53.5 116.4L60.5 116.7L67.4 117.3L82 119.9L85.9 120.5L89.9 120.7L93.9 120.4L97.9 119.8L101.8 118.7L119.4 112L131.3 108.4L150.3 103.8L180.3 97.5M4.5 121.5L30.5 119.6L40.5 119.2L50.5 119.1L58.5 119.4L65.4 119.9L85.1 122.6L90.1 122.8L95.1 122.5L99.1 121.8L103 120.8L120.7 115L133.7 111.5L151.6 107.7L179.6 102.3M4.5 124.3L29.5 122.5L38.5 122.1L47.5 122L55.5 122.2L62.4 122.6L85.2 125L90.2 125.1L95.2 124.8L99.2 124.3L104.1 123.3L122.9 118L135.9 115L153.9 111.6L179.9 107.2M5.5 129.6L28.5 128L44.5 127.5L59.5 128L84.3 129.8L90.3 129.9L95.3 129.7L100.3 129.2L105.3 128.5L126.2 124.3L139.1 122.1L155.1 119.9L177.1 117.2M6.5 135.2L27.5 133.7L43.5 133.2L57.5 133.5L84.4 134.9L90.4 134.9L96.4 134.7L107.4 133.7L128.3 130.8L141.3 129.2L156.3 127.7L174.3 126.2M8.5 141.2L29.5 139.7L44.5 139.2L57.5 139.3L83.4 140.1L97.4 139.9L108.4 139.1L143.4 135.5L171.3 133.3M10.5 147.2L31.5 145.7L46.5 145.1L58.5 145.1L84.4 145.5L98.4 145.3L110.4 144.5L144.4 141.8L168.4 140.4M13.5 153.1L34.5 151.7L49.5 151L60.5 150.9L86.5 151L101.5 150.6L143.4 148.3L164.4 147.4M16.5 159.1L35.5 157.8L50.5 157L61.5 156.7L87.5 156.5L100.5 156.2L160.4 153.5M20.5 165L41.5 163.5L57.5 162.7L104.5 161.6L155.5 159.5M25.5 170.9L48.5 169.3L65.5 168.3L108.5 167.1L150.5 165.5M31.5 176.7L56.5 174.9L73.5 173.9L144.5 171.5M38.5 182.4L65.5 180.3L81.5 179.4L137.5 177.4M47.5 187.8L88.5 184.8L128.5 183.3M59.5 192.9L92.5 190.3L116.5 189.2" fill="none" stroke="#fff" stroke-width="0.85" stroke-opacity="0.55"/>
<path d="M84.8 8.1L82.7 9.4L82.3 7.6ZM82.8 14.2L80.7 15.5L80.3 13.6ZM119.8 8L117.6 9.3L117.3 7.4ZM49.8 25.9L47.7 27.2L47.3 25.4ZM86.8 19.2L84.7 20.5L84.3 18.6ZM123.8 13.1L121.6 14.4L121.3 12.5ZM54.8 30.8L52.7 32.1L52.3 30.2ZM91.8 24L89.7 25.3L89.3 23.4ZM128.8 18.1L126.6 19.4L126.3 17.5ZM61.7 35.3L59.7 36.6L59.3 34.8ZM98.8 28.4L96.6 29.8L96.3 27.9ZM135.8 22.6L133.6 23.9L133.3 22.1ZM32.7 47L30.7 48.4L30.3 46.5ZM69.7 39.5L67.7 40.9L67.3 39ZM106.8 32.7L104.6 34L104.3 32.1ZM143.7 27.1L141.6 28.4L141.3 26.5ZM41.7 51.2L39.7 52.6L39.3 50.7ZM78.7 43.4L76.7 44.7L76.3 42.9ZM115.7 36.9L113.6 38.2L113.3 36.3ZM152.7 31.6L150.6 32.9L150.3 31ZM50.7 55.1L48.7 56.5L48.3 54.7ZM87.7 47.1L85.6 48.5L85.3 46.6ZM124.7 41.6L122.6 42.8L122.3 40.9ZM161.7 36.7L159.6 38L159.3 36.1ZM23.7 66.6L21.7 68L21.3 66.2ZM60.7 58.4L58.7 59.8L58.3 58ZM97.7 50.9L95.6 52.1L95.3 50.3ZM134.7 46.7L132.5 47.9L132.3 46ZM34.7 69L32.7 70.4L32.3 68.6ZM71.7 60.9L69.7 62.3L69.2 60.5ZM108.7 55.2L106.5 56.3L106.3 54.5ZM145.7 51.9L143.5 53.1L143.3 51.2ZM46.7 71.5L44.7 72.9L44.3 71ZM83.7 63.7L81.6 65L81.2 63.1ZM120.6 60.2L118.4 61.3L118.3 59.4ZM157.6 57.2L155.4 58.4L155.2 56.5ZM21.8 81.2L19.7 82.5L19.3 80.6ZM58.7 74.3L56.7 75.7L56.3 73.8ZM95.6 67L93.4 68.2L93.2 66.3ZM132.5 65.8L130.2 66.8L130.1 64.9ZM169.4 62.6L167.3 63.7L167.1 61.9ZM32.8 84.4L30.6 85.7L30.3 83.8ZM69.6 77.3L67.6 78.8L67.2 76.9ZM106.5 71.8L104.1 72.7L104.2 70.8ZM143.2 71.5L141 72.6L140.9 70.7ZM44.8 87.9L42.6 89.2L42.4 87.3ZM81.3 79.1L79.4 80.7L78.8 78.9ZM117.9 78.5L115.5 79.3L115.7 77.4ZM154.7 77.2L152.5 78.4L152.4 76.5ZM20.8 96.9L18.6 98.1L18.4 96.2ZM57.8 92L55.6 93.4L55.3 91.5ZM93.7 80.7L91.5 81.9L91.3 80ZM129.7 85L127.4 86L127.4 84.1ZM166.7 82.2L164.5 83.3L164.3 81.4ZM32.8 102.3L30.6 103.4L30.4 101.6ZM69.7 97.6L67.7 99L67.3 97.1ZM103.1 87.6L100.7 87.3L101.6 85.7ZM138 91.7L135.8 92.8L135.6 90.9ZM175 88.1L172.8 89.3L172.6 87.4ZM45.8 103L43.6 104.2L43.4 102.3ZM110.6 98.7L108.7 100.4L108.1 98.6ZM147.6 93.8L145.4 95.1L145.2 93.2ZM21.8 108.1L19.6 109.2L19.4 107.3ZM58.8 105.9L56.5 106.9L56.5 105ZM93.5 113.8L91.3 114.9L91.2 113ZM128.2 98L126.2 99.5L125.8 97.6ZM165.2 90.4L163.2 91.8L162.8 90ZM34.8 111.2L32.6 112.3L32.4 110.4ZM71.6 111.8L69.2 112.3L69.6 110.5ZM106.9 111.1L105.4 113.1L104.4 111.4ZM143.3 98L141.3 99.5L140.9 97.7ZM180.3 89.2L178.3 90.7L177.9 88.8ZM10.8 115.6L8.6 116.8L8.4 114.9ZM47.8 113.5L45.5 114.5L45.5 112.6ZM84.1 118L81.6 118.4L82 116.6ZM120.1 108.2L118.3 109.9L117.6 108.2ZM157.1 98.5L155.1 99.9L154.6 98.1ZM23.8 117.3L21.6 118.5L21.4 116.6ZM60.8 116.7L58.4 117.5L58.5 115.6ZM97.2 119.9L95.1 121.3L94.8 119.4ZM133.6 107.8L131.6 109.3L131.1 107.5ZM170.6 99.5L168.5 100.9L168.1 99.1ZM37.8 119.3L35.5 120.3L35.5 118.4ZM74.6 121.2L72.2 121.7L72.5 119.9ZM111.1 118.2L109.2 119.9L108.6 118.1ZM147.9 108.4L145.8 109.8L145.4 107.9ZM13.8 123.5L11.6 124.6L11.4 122.7ZM50.8 122L48.5 123L48.5 121.1ZM87.5 125.1L85.1 126L85.2 124.1ZM124.2 117.7L122.2 119.2L121.7 117.3ZM161.1 110.3L159 111.6L158.7 109.8ZM27.8 128L25.6 129.1L25.4 127.2ZM64.7 128.3L62.4 129.1L62.5 127.2ZM101.6 129L99.4 130.3L99.2 128.4ZM138.4 122.2L136.3 123.5L136 121.6ZM175.4 117.4L173.2 118.6L173 116.7ZM41.8 133.2L39.5 134.2L39.5 132.3ZM78.7 134.7L76.4 135.5L76.5 133.6ZM115.6 132.6L113.5 133.9L113.2 132ZM152.6 128.1L150.4 129.2L150.2 127.3ZM19.8 140.3L17.6 141.4L17.4 139.6ZM56.8 139.2L54.5 140.1L54.5 138.2ZM93.7 140.1L91.4 141.1L91.4 139.2ZM130.7 136.7L128.5 137.9L128.3 136ZM167.6 133.6L165.4 134.7L165.3 132.8ZM34.8 145.5L32.5 146.6L32.4 144.7ZM71.8 145.3L69.4 146.2L69.5 144.3ZM108.7 144.7L106.5 145.8L106.4 143.9ZM145.7 141.8L143.5 142.9L143.3 141ZM50.8 151L48.5 152L48.5 150.1ZM87.8 151L85.5 151.9L85.5 150ZM124.7 149.4L122.5 150.5L122.4 148.6ZM161.7 147.5L159.5 148.5L159.4 146.6ZM29.8 158.1L27.6 159.2L27.4 157.3ZM66.8 156.6L64.5 157.6L64.5 155.7ZM103.8 156.1L101.5 157.1L101.4 155.2ZM140.8 154.3L138.5 155.4L138.4 153.5ZM46.8 163.2L44.5 164.3L44.4 162.4ZM83.8 162.1L81.5 163.1L81.5 161.2ZM120.8 161L118.5 162.1L118.4 160.2ZM64.8 168.3L62.5 169.4L62.4 167.5ZM101.8 167.3L99.5 168.3L99.5 166.4ZM138.8 165.9L136.5 167L136.4 165.1ZM46.8 175.6L44.6 176.7L44.4 174.8ZM83.8 173.5L81.5 174.5L81.5 172.6ZM120.8 172.3L118.5 173.4L118.5 171.5ZM66.8 180.3L64.6 181.4L64.4 179.5ZM103.8 178.5L101.5 179.5L101.5 177.6ZM88.8 184.8L86.5 185.9L86.4 184ZM125.8 183.4L123.5 184.4L123.5 182.5ZM76.8 191.5L74.6 192.6L74.4 190.7ZM113.8 189.3L111.5 190.3L111.5 188.4Z" fill="#fff" fill-opacity="0.95"/>
</g>
<g transform="translate(92.5 99.0)">
<circle r="12.5" fill="url(#sphg)"/>
<g clip-path="url(#sphc)">
<ellipse cx="-1.5" cy="-7.5" rx="5.5" ry="4.5" fill="#1f36e0" opacity="0.85" filter="url(#b1_5)"/>
<ellipse cx="6.5" cy="0.5" rx="5" ry="6" fill="#3fd0ea" opacity="0.75" filter="url(#b2)"/>
<ellipse cx="0" cy="9.5" rx="9" ry="3.6" fill="#2a8f9f" opacity="0.75" filter="url(#b1_5)"/>
<path d="M3.2 -12.5C6 -10 8 -7 9.2 -3.5" stroke="#42d84a" stroke-width="3.2" fill="none" opacity="0.85" filter="url(#b1)"/>
<g stroke="#06141c" fill="none" opacity="0.75">
<path d="M-6 -10.6C-13.6 -4.5 -13 7 -4.5 11.6" stroke-width="1.5"/>
<path d="M-4.6 -10.4C-10.6 -4.4 -10.4 5.4 -2.4 9.8" stroke-width="0.9" opacity="0.8"/>
<path d="M-4 -10.6C-8.2 -4 -7.6 3.6 -0.4 7.2" stroke-width="0.7" opacity="0.55"/>
</g>
<g stroke="#fff" stroke-width="0.7" fill="none" opacity="0.9">
<path d="M-5 -10.2C-12 -4.8 -11.6 6 -3.4 10.6"/>
<path d="M-4.4 -10.6C-9.4 -4 -8.8 4.6 -1.2 8.4C1.6 9.6 4.2 9.8 6.4 9.2"/>
<path d="M-3.8 -10.9C-6.6 -4 -5.6 2.6 1.6 5.6C4.6 6.7 7.4 6.7 9.6 6"/>
<path d="M-3.2 -11.1C-3.8 -5 -2 0 4.6 2.2C7.4 3 9.8 2.8 11.6 2"/>
</g>
</g>
<path d="M-6.62 -10.60A12.5 12.5 0 1 0 6.25 10.83" fill="none" stroke="#0a1a22" stroke-width="1" opacity="0.8"/>
<circle cx="12.2" cy="-2.8" r="0.9" fill="#e33"/>
</g>
<g stroke="#3a3a3a" stroke-width="0.9" fill="none" stroke-linecap="round">
<path d="M205.9 30.6V12.2M208 30.4L223.6 29.2M205.9 30.8L213.9 34.6"/>
<path d="M207.6 25.3h5.8v4.6" stroke-width="0.7"/>
</g>
<path d="M205.4 25h2.6v6h-2.6z" fill="#333"/>
<g font-size="5.4" fill="#3a3a3a" text-anchor="middle"><text x="205.9" y="9.6">Y</text><text x="228.2" y="31.1">X</text><text x="216.6" y="37.9">Z</text></g>
<rect x="207.8" y="89.9" width="10.2" height="82.4" fill="url(#cbar)"/>
<text x="224.8" y="83.8" font-size="6.6" text-anchor="middle" fill="#222">Mach</text>
<g font-size="6.6" fill="#222">
<text x="223.8" y="174.9">0</text>
<text x="223.8" y="166.6">1</text>
<text x="223.8" y="158.4">2</text>
<text x="223.8" y="150.1">3</text>
<text x="223.8" y="141.9">4</text>
<text x="223.8" y="133.6">5</text>
<text x="223.8" y="125.3">6</text>
<text x="223.8" y="117.1">7</text>
<text x="223.8" y="108.8">8</text>
<text x="223.8" y="100.6">9</text>
<text x="223.8" y="92.3">10</text>
</g>
</g>
<g transform="translate(0 220.5)">
<g clip-path="url(#disk)">
<g filter="url(#cmap)">
<rect x="-20" y="-20" width="270" height="280" fill="url(#basee)"/>
<path d="M102.7 45.5C100.2 44.4 96.5 44.5 91.8 45.1C87.1 45.6 79.3 47.5 74.6 48.8C69.9 50.2 67.2 51.6 63.7 53.1C60.1 54.7 57.8 55.8 53.5 58.2C49.2 60.7 43 64.4 38 67.9C33.1 71.5 27.8 75.1 23.5 79.4C19.3 83.7 15.4 88.9 12.6 93.5C9.7 98.1 7.9 102.7 6.3 107C4.8 111.4 4 115.9 3.2 119.7C2.5 123.6 2 126.1 2 130C2 133.9 2.4 138.8 3.3 142.9C4.2 146.9 5.9 150.6 7.2 154.3C8.5 158 9.4 161.3 11 165.1C12.7 168.9 14.4 173 17.2 177.2C20 181.4 23 185.5 27.8 190.2C32.6 194.9 34.6 199.3 45.8 205.4C57 211.6 78.4 220.1 95 227C111.5 233.9 122.3 243.2 145.2 247.1C168 250.9 217.5 275.8 232 250C246.5 224.2 242.3 118.7 232 92C221.7 65.3 187 90.3 170 90C153 89.7 140.5 90.7 130 90C119.5 89.3 111.3 89.7 107 86C102.7 82.3 104 73.7 104 68C104 62.3 107.2 55.7 107 52C106.8 48.3 105.3 46.7 102.7 45.5Z" fill="#c9c9c9" opacity="1" filter="url(#b7)"/>
<ellipse cx="107" cy="68" rx="17" ry="4.5" transform="rotate(-55 107 68)" fill="#bababa" filter="url(#b3)"/>
<ellipse cx="121" cy="50" rx="13" ry="5.5" transform="rotate(-45 121 50)" fill="#c7c7c7" filter="url(#b4)"/>
<ellipse cx="135" cy="81.5" rx="34" ry="2" transform="rotate(-3 135 81.5)" fill="#c2c2c2" filter="url(#b2)"/>
<path d="M102.1 57.3C100.8 57.1 97.2 56.3 93.2 56.8C89.1 57.3 82 59 77.9 60.1C73.8 61.3 71.6 62.5 68.5 63.9C65.4 65.3 63.3 66.2 59.4 68.5C55.4 70.7 49.4 74.4 44.8 77.6C40.2 80.8 35.6 84.1 31.9 87.7C28.1 91.4 25 95.9 22.6 99.8C20.2 103.6 18.8 107.2 17.5 110.9C16.2 114.6 15.4 118.8 14.8 122C14.2 125.2 13.8 127 13.8 130C13.8 133 14.1 136.9 14.8 140.3C15.6 143.7 17.2 147 18.4 150.4C19.5 153.8 20.5 157.1 21.9 160.5C23.3 163.8 24.6 167.1 27 170.7C29.4 174.2 32.1 177.8 36.2 181.8C40.2 185.9 40.9 189.3 51.4 195.1C62 200.8 83.2 209.3 99.5 216.1C115.9 223 127.5 230.5 149.6 236.1C171.6 241.8 218.3 275 232 250C245.7 225 242.3 112.7 232 86C221.7 59.3 187 89 170 90C153 91 140.5 92.3 130 92C119.5 91.7 111.7 91.3 107 88C102.3 84.7 103 77 102 72C101 67 101 60.4 101 58C101 55.6 103.4 57.5 102.1 57.3Z" fill="#a8a8a8" opacity="0.8" filter="url(#b5)"/>
<g filter="url(#b0_6)">
<g mask="url(#Ke)">
<path d="M96.8 67C96 68.4 97.3 70.3 97 72.6C96.7 74.9 95.6 79.1 95 81C94.4 82.9 92.3 84.5 93.6 84C94.9 83.5 98.3 79.4 103 78C107.7 76.6 110 76.6 122 75.5C134 74.4 156.7 72.8 175 71.5C193.3 70.2 222.5 37.8 232 67.5C241.5 97.2 245.1 223.4 232 250C218.9 276.6 174.7 234 153.3 226.8C131.8 219.6 119.6 213.6 103.4 206.9C87.2 200.1 66.2 191.6 56.2 186.3C46.2 180.9 46.7 178.3 43.2 174.8C39.7 171.3 37.3 168.2 35.3 165.1C33.3 162.1 32.4 159.6 31.1 156.6C29.8 153.6 28.9 150.2 27.8 147.1C26.7 144 25.3 140.9 24.6 138.1C23.9 135.2 23.8 132.4 23.8 130C23.8 127.6 24.1 126.5 24.6 123.9C25.2 121.2 25.9 117.4 26.9 114.2C27.9 111 28.7 108.1 30.6 104.8C32.5 101.4 35 97.5 38.2 94.1C41.3 90.7 45.4 87.6 49.7 84.5C53.9 81.4 59.8 77.7 63.5 75.5C67.1 73.2 69 72.4 71.7 71.1C74.5 69.7 76.3 68.6 80 67.5C83.7 66.3 90.4 64.7 94 64.2C97.6 63.7 101.2 64 101.7 64.5C102.1 65 97.6 65.6 96.8 67Z" fill="#878787" filter="url(#b5)"/>
<path d="M100 100L150 92L182 88L182 104L150 112L120 122L100 124Z" fill="#737373" opacity="0.6" filter="url(#b5)"/>
<path d="M95 89C93.5 88.5 92.7 87.7 91 87C89.3 86.3 87.3 85.6 85 85C82.7 84.4 79.8 83.5 77 83.5C74.2 83.5 70.7 84 68 85C65.3 86 62.9 87.8 61 89.5C59.1 91.2 57.6 92.9 56.5 95C55.4 97.1 54.8 98.7 54.5 102C54.2 105.3 53.9 110.7 54.5 115C55.1 119.3 56.1 124 58 128C59.9 132 62.7 136 66 139C69.3 142 73.5 144.3 78 146C82.5 147.7 88 148.7 93 149C98 149.3 103.7 149 108 148C112.3 147 116.7 145 119 143C121.3 141 122.7 138.3 122 136C121.3 133.7 117.3 131.2 115 129C112.7 126.8 109.8 125.2 108 123C106.2 120.8 104.7 118.8 104 116C103.3 113.2 104.7 109 104 106C103.3 103 100.7 100.7 100 98C99.3 95.3 100.8 91.5 100 90C99.2 88.5 96.5 89.5 95 89Z" fill="#666666" opacity="0.55" filter="url(#b8)"/>
<path d="M95 89C93.5 88.5 92.7 87.7 91 87C89.3 86.3 87.3 85.6 85 85C82.7 84.4 79.8 83.5 77 83.5C74.2 83.5 70.7 84 68 85C65.3 86 62.9 87.8 61 89.5C59.1 91.2 57.6 92.9 56.5 95C55.4 97.1 54.8 98.7 54.5 102C54.2 105.3 53.9 110.7 54.5 115C55.1 119.3 56.1 124 58 128C59.9 132 62.7 136 66 139C69.3 142 73.5 144.3 78 146C82.5 147.7 88 148.7 93 149C98 149.3 103.7 149 108 148C112.3 147 116.7 145 119 143C121.3 141 122.7 138.3 122 136C121.3 133.7 117.3 131.2 115 129C112.7 126.8 109.8 125.2 108 123C106.2 120.8 104.7 118.8 104 116C103.3 113.2 104.7 109 104 106C103.3 103 100.7 100.7 100 98C99.3 95.3 100.8 91.5 100 90C99.2 88.5 96.5 89.5 95 89Z" fill="#303030" filter="url(#b3_5)"/>
<path d="M100 90C102.5 88.1 110.4 89.7 115 89.5C119.6 89.3 123.5 89.2 127.7 89C131.9 88.8 136.4 88.6 140 88.4C143.6 88.2 145.7 88.2 149 88C152.3 87.8 158.2 86.9 160 87.4C161.8 87.9 161.8 90.2 160 91C158.2 91.8 153 91.6 149 92.2C145 92.8 140.9 93.6 136 94.7C131.1 95.8 124.7 97.8 119.5 98.8C114.3 99.8 108.2 100.6 105 101C101.8 101.4 100.8 102.8 100 101C99.2 99.2 97.5 91.9 100 90Z" fill="url(#wke)" filter="url(#b1_5)"/>
<path d="M78.7 87.4A18 18 0 0 0 86.3 115.9" fill="none" stroke="#171717" stroke-width="12" stroke-linecap="round" filter="url(#b2_5)"/>
<ellipse cx="107" cy="95.5" rx="4.5" ry="5" fill="#171717" filter="url(#b1_5)"/>
<ellipse cx="172" cy="118" rx="10" ry="22" fill="#a3a3a3" filter="url(#b5)"/>
</g>
</g>
</g>
<path d="M65.5 11.5L110.5 3.8M50.5 20L89.5 13L125.5 7.1M41.5 27.4L90.5 18.5L136.5 11.2M33.5 34.8L70.5 27.8L91.5 24L112.5 20.6L144.5 15.7M27.5 42L71.5 33.4L92.5 29.5L114.5 25.9L150.5 20.5M22.5 49L73.5 38.7L93.5 35L115.5 31.3L155.5 25.4M18.5 55.9L75.5 44L93.5 40.5L113.5 37.3L160.5 30.5M14.5 62.8L39.5 57.5L76.5 49.4L92.5 46.2L109.5 43.6L144.4 39.2L165.4 36.3M11.5 69L38.5 63.3L74.5 55.1L89.5 52.2L105.4 49.9L142.4 45.9L169.4 42.5M10.5 73.6L38.5 68.1L75.4 60L90.4 57.3L104.4 55.6L144.4 52.1L172.4 48.8M8.5 78.5L42.5 72.2L80.4 64.3L91.4 62.4L103.4 61.2L127.3 59.8L141.3 58.8L156.3 57.3L175.3 55.2M7.5 83.3L30.5 79.5L49.5 76.1L61.4 73.7L81.3 69.2L91.3 67.5L96.3 66.9L102.3 66.6L124.2 66.1L137.2 65.5L154.2 64.1L177.2 61.7M5.5 88.3L37.5 83.5L53.5 80.8L65.4 78.3L83.2 73.8L88.2 72.8L92.2 72.2L96.2 71.9L101.2 71.7L121 72.3L133.9 72.1L151.9 70.9L178.9 68.3M5.5 93.1L41.5 88.3L56.5 86L67.4 83.5L85 78.1L89 77.2L92 76.8L96 76.5L99.9 76.6L117.6 78.5L123.5 78.7L129.5 78.7L137.5 78.4L148.4 77.7L179.4 75.1M4.5 98.7L44.5 94L54.5 92.6L61.5 91.3L66.4 90.2L71.3 88.6L81.7 83.9L85.5 82.4L89.4 81.3L92.4 80.8L95.4 80.7L99.4 81L103.2 81.8L109.8 83.5L113.6 84.3L118.5 84.9L124.4 85.1L132.4 84.9L143.4 84.2L180.4 80.9M3.5 105.2L51.5 100.3L62.5 98.9L69.5 97.6L73.4 96.4L76.1 95L77.8 93.7L82.4 89.4L85.8 87L89.6 85.4L92.6 84.8L95.6 84.8L97.5 85.2L99.4 85.7L102.8 87.4L107.4 90.8L109 91.8L111.8 92.7L115.7 93L122.7 92.9L132.7 92.1L180.7 87.6M3.5 106.3L25.5 104.5L51.5 102.6L67.5 101.7L74.5 101.7L76.4 102L78.1 102.9L82.2 108.3L83.7 109.6L85.3 110.6L87.1 111.4L88.9 111.9L90.9 112.2L92.9 112.1L94.9 111.8L96.8 111.1L98.7 110.2L100.4 109L101.9 107.6L103.3 106L106.8 100.8L108.4 99.5L110.3 98.8L115.3 97.8L124.3 96.6L181.3 89.9M3.5 109.3L22.5 107.8L41.5 106.6L57.5 105.9L66.5 105.9L70.4 106.3L74.2 107.2L76.9 108.4L82.8 111.9L86.4 113.3L90.3 114L93.2 113.8L96.2 113.2L100 111.6L102.7 109.8L107.7 105.8L110.3 103.9L114.1 102L118 100.7L125 98.8L136 96.3L181 87.4M3.5 113.2L20.5 111.9L35.5 111L50.5 110.5L60.5 110.6L66.4 111L71.3 111.8L75.1 112.8L82.5 115.3L86.4 116.3L90.3 116.6L93.3 116.5L96.3 115.9L100.2 114.6L104 112.8L110.5 109L114.3 107.1L119.2 105L125.1 103L133.1 100.7L144.1 97.8L181.1 89M3.5 115.8L18.5 114.7L32.5 113.9L46.5 113.5L57.5 113.5L63.4 113.8L69.3 114.6L73.2 115.3L81.8 117.5L85.7 118.2L89.7 118.6L93.7 118.4L97.6 117.6L101.6 116.4L117 109.4L122.9 107.3L128.9 105.5L147.8 100.6L180.8 93.2M3.5 118.5L18.5 117.4L30.5 116.7L42.5 116.4L53.5 116.4L60.5 116.6L67.4 117.3L82 119.9L85.9 120.5L89.9 120.7L93.9 120.4L97.9 119.8L101.8 118.7L119.4 112L131.3 108.4L150.3 103.8L180.3 97.5M4.5 121L17.5 120L28.5 119.4L39.5 119.1L50.5 119.1L58.5 119.4L65.4 119.9L85.1 122.6L90.1 122.8L94.1 122.6L98.1 122L103 120.8L120.7 115L133.7 111.5L151.6 107.7L179.6 102.3M4.5 123.7L27.5 122.2L37.5 121.9L47.5 121.9L55.5 122.1L62.4 122.6L85.2 125L90.2 125.1L95.2 124.8L99.2 124.3L104.1 123.3L122.9 118L135.9 115L153.9 111.6L179.9 107.2M5.5 129L26.5 127.7L43.5 127.4L59.5 127.9L84.3 129.8L90.3 129.9L95.3 129.7L100.3 129.2L105.3 128.5L126.2 124.3L139.1 122.1L155.1 119.9L177.1 117.2M6.5 134.6L25.5 133.4L41.5 133L56.5 133.4L83.4 134.9L89.4 134.9L95.4 134.8L106.4 133.8L129.3 130.7L142.3 129.1L174.3 126.2M8.5 140.7L27.5 139.4L41.5 139L55.5 139.1L82.4 140.1L96.4 140L108.4 139.1L143.4 135.5L171.3 133.3M10.5 146.7L29.5 145.4L43.5 144.9L55.5 144.9L83.4 145.5L98.4 145.3L110.4 144.6L144.4 141.9L168.4 140.4M13.5 152.7L32.5 151.4L46.5 150.8L57.5 150.7L85.5 151L100.5 150.7L164.4 147.4M16.5 158.8L34.5 157.5L47.5 156.8L58.5 156.6L85.5 156.5L99.5 156.2L160.4 153.5M20.5 164.7L39.5 163.4L54.5 162.6L102.5 161.7L155.5 159.5M25.5 170.7L47.5 169.1L62.5 168.3L107.5 167.2L150.5 165.5M30.5 176.6L55.5 174.8L71.5 173.9L144.5 171.5M38.5 182.3L64.5 180.3L80.5 179.4L137.5 177.4M47.5 187.8L87.5 184.8L128.5 183.3M59.5 192.9L92.5 190.3L116.5 189.2" fill="none" stroke="#fff" stroke-width="0.85" stroke-opacity="0.55"/>
<path d="M84.8 8.1L82.7 9.4L82.3 7.6ZM82.8 14.2L80.7 15.5L80.3 13.6ZM119.8 8L117.6 9.3L117.3 7.4ZM49.8 25.9L47.7 27.2L47.3 25.4ZM86.8 19.2L84.7 20.5L84.3 18.6ZM123.8 13.1L121.6 14.4L121.3 12.5ZM54.8 30.8L52.7 32.1L52.3 30.2ZM91.8 24L89.7 25.3L89.3 23.4ZM128.8 18.1L126.6 19.4L126.3 17.5ZM61.7 35.3L59.7 36.6L59.3 34.8ZM98.8 28.4L96.6 29.8L96.3 27.9ZM135.8 22.7L133.6 23.9L133.3 22.1ZM32.7 47L30.7 48.4L30.3 46.5ZM69.7 39.5L67.7 40.9L67.3 39ZM106.8 32.7L104.6 34L104.3 32.1ZM143.7 27.1L141.6 28.4L141.3 26.5ZM41.7 51.2L39.7 52.6L39.3 50.7ZM78.7 43.3L76.7 44.7L76.3 42.9ZM115.7 36.9L113.6 38.2L113.3 36.3ZM152.7 31.7L150.6 32.9L150.3 31ZM50.7 55.1L48.7 56.5L48.3 54.6ZM87.7 47.1L85.6 48.5L85.3 46.6ZM124.7 41.7L122.6 42.9L122.3 41ZM161.7 36.8L159.6 38.1L159.3 36.2ZM23.7 66.4L21.7 67.9L21.3 66ZM60.7 58.2L58.7 59.6L58.3 57.8ZM97.7 50.9L95.6 52.2L95.3 50.3ZM134.7 46.7L132.5 47.9L132.3 46ZM35.7 68.6L33.7 70L33.3 68.2ZM72.7 60.6L70.6 62L70.2 60.1ZM109.7 55.1L107.5 56.3L107.3 54.4ZM146.7 51.8L144.5 53L144.3 51.1ZM46.7 71.3L44.7 72.7L44.3 70.9ZM83.7 63.6L81.6 65L81.2 63.1ZM120.6 60.2L118.4 61.3L118.3 59.4ZM157.6 57.2L155.4 58.4L155.2 56.5ZM21.8 80.9L19.7 82.3L19.3 80.4ZM58.7 74.2L56.7 75.6L56.3 73.8ZM95.6 67L93.4 68.2L93.2 66.3ZM132.5 65.8L130.2 66.8L130.1 64.9ZM169.4 62.6L167.3 63.7L167.1 61.9ZM32.8 84.2L30.6 85.5L30.4 83.6ZM69.6 77.3L67.6 78.7L67.2 76.9ZM106.5 71.8L104.1 72.7L104.2 70.8ZM143.2 71.5L141 72.6L140.9 70.7ZM45.8 87.7L43.6 89L43.4 87.1ZM82.3 78.8L80.4 80.4L79.8 78.6ZM118.9 78.6L116.5 79.3L116.6 77.5ZM155.7 77.1L153.5 78.3L153.4 76.4ZM20.8 96.8L18.6 98L18.4 96.1ZM57.8 92L55.6 93.4L55.3 91.5ZM93.7 80.7L91.5 81.9L91.3 80ZM129.7 85L127.4 86L127.4 84.1ZM166.7 82.2L164.5 83.3L164.3 81.4ZM32.8 102.3L30.6 103.5L30.4 101.6ZM69.7 97.6L67.7 99L67.3 97.1ZM103.1 87.6L100.7 87.3L101.6 85.7ZM138 91.7L135.8 92.8L135.6 90.9ZM175 88.1L172.8 89.3L172.6 87.4ZM45.8 103L43.6 104.1L43.4 102.2ZM110.6 98.7L108.7 100.4L108.1 98.6ZM147.6 93.8L145.4 95.1L145.2 93.2ZM21.8 107.8L19.6 109L19.4 107.1ZM58.8 105.9L56.5 106.9L56.5 105ZM93.5 113.8L91.3 114.9L91.2 113ZM128.2 98L126.2 99.5L125.8 97.6ZM165.2 90.4L163.2 91.8L162.8 90ZM34.8 111.1L32.5 112.1L32.5 110.2ZM71.6 111.8L69.2 112.3L69.6 110.5ZM106.9 111.1L105.4 113.1L104.4 111.4ZM143.3 98L141.3 99.5L140.9 97.7ZM180.3 89.2L178.3 90.7L177.9 88.8ZM10.8 115.2L8.6 116.4L8.4 114.5ZM47.8 113.4L45.5 114.4L45.5 112.5ZM84.1 118L81.6 118.4L82 116.6ZM120.1 108.2L118.3 109.9L117.6 108.2ZM157.1 98.5L155.1 99.9L154.6 98.1ZM23.8 117L21.6 118.1L21.4 116.2ZM60.8 116.7L58.4 117.5L58.5 115.6ZM97.2 119.9L95.1 121.3L94.8 119.4ZM133.6 107.8L131.6 109.3L131.1 107.5ZM170.6 99.5L168.5 100.9L168.1 99.1ZM37.8 119.1L35.5 120.1L35.5 118.2ZM74.6 121.2L72.2 121.7L72.5 119.9ZM111.1 118.2L109.2 119.9L108.6 118.1ZM147.9 108.4L145.8 109.8L145.4 107.9ZM13.8 123L11.6 124.1L11.4 122.2ZM50.8 122L48.5 122.9L48.5 121ZM87.5 125.1L85.1 126L85.2 124.1ZM124.2 117.7L122.2 119.2L121.7 117.3ZM161.1 110.3L159 111.6L158.7 109.8ZM27.8 127.6L25.5 128.7L25.5 126.8ZM64.7 128.3L62.4 129.1L62.5 127.2ZM101.6 129L99.4 130.3L99.2 128.4ZM138.4 122.2L136.3 123.5L136 121.6ZM175.4 117.4L173.2 118.6L173 116.7ZM41.8 133L39.5 133.9L39.5 132ZM78.7 134.7L76.3 135.5L76.5 133.6ZM115.6 132.6L113.5 133.9L113.2 132ZM152.6 128.1L150.4 129.2L150.2 127.3ZM19.8 139.8L17.6 140.9L17.4 139.1ZM56.8 139.2L54.4 140L54.5 138.1ZM93.7 140.1L91.4 141.1L91.4 139.2ZM130.7 136.7L128.5 137.9L128.3 136ZM167.6 133.6L165.4 134.7L165.3 132.8ZM34.8 145.2L32.5 146.2L32.5 144.3ZM71.8 145.3L69.4 146.2L69.5 144.3ZM108.7 144.7L106.5 145.8L106.4 143.9ZM145.7 141.8L143.5 142.9L143.3 141ZM50.8 150.8L48.5 151.8L48.5 149.9ZM87.8 151L85.5 151.9L85.5 150ZM124.7 149.4L122.5 150.5L122.4 148.6ZM161.7 147.5L159.5 148.5L159.4 146.6ZM29.8 157.8L27.6 158.9L27.4 157ZM66.8 156.5L64.5 157.5L64.5 155.6ZM103.8 156.1L101.5 157.1L101.4 155.2ZM140.8 154.3L138.5 155.4L138.4 153.5ZM46.8 163L44.5 164.1L44.4 162.2ZM83.8 162.1L81.5 163.1L81.5 161.2ZM120.8 161L118.5 162.1L118.4 160.2ZM64.8 168.2L62.5 169.3L62.4 167.4ZM101.8 167.3L99.5 168.4L99.5 166.5ZM138.8 166L136.5 167L136.4 165.1ZM45.8 175.5L43.6 176.6L43.4 174.7ZM82.8 173.5L80.5 174.5L80.5 172.6ZM119.8 172.4L117.5 173.4L117.5 171.5ZM66.8 180.2L64.6 181.3L64.4 179.4ZM103.8 178.5L101.5 179.6L101.5 177.7ZM88.8 184.8L86.5 185.8L86.4 184ZM125.8 183.4L123.5 184.4L123.5 182.5ZM76.8 191.5L74.6 192.6L74.4 190.7ZM113.8 189.3L111.5 190.3L111.5 188.4Z" fill="#fff" fill-opacity="0.95"/>
</g>
<g transform="translate(92.5 99.0)">
<circle r="12.5" fill="url(#sphg)"/>
<g clip-path="url(#sphc)">
<ellipse cx="-1.5" cy="-7.5" rx="5.5" ry="4.5" fill="#1f36e0" opacity="0.85" filter="url(#b1_5)"/>
<ellipse cx="6.5" cy="0.5" rx="5" ry="6" fill="#3fd0ea" opacity="0.75" filter="url(#b2)"/>
<ellipse cx="0" cy="9.5" rx="9" ry="3.6" fill="#2a8f9f" opacity="0.75" filter="url(#b1_5)"/>
<path d="M3.2 -12.5C6 -10 8 -7 9.2 -3.5" stroke="#42d84a" stroke-width="3.2" fill="none" opacity="0.85" filter="url(#b1)"/>
<g stroke="#06141c" fill="none" opacity="0.75">
<path d="M-6 -10.6C-13.6 -4.5 -13 7 -4.5 11.6" stroke-width="1.5"/>
<path d="M-4.6 -10.4C-10.6 -4.4 -10.4 5.4 -2.4 9.8" stroke-width="0.9" opacity="0.8"/>
<path d="M-4 -10.6C-8.2 -4 -7.6 3.6 -0.4 7.2" stroke-width="0.7" opacity="0.55"/>
</g>
<g stroke="#fff" stroke-width="0.7" fill="none" opacity="0.9">
<path d="M-5 -10.2C-12 -4.8 -11.6 6 -3.4 10.6"/>
<path d="M-4.4 -10.6C-9.4 -4 -8.8 4.6 -1.2 8.4C1.6 9.6 4.2 9.8 6.4 9.2"/>
<path d="M-3.8 -10.9C-6.6 -4 -5.6 2.6 1.6 5.6C4.6 6.7 7.4 6.7 9.6 6"/>
<path d="M-3.2 -11.1C-3.8 -5 -2 0 4.6 2.2C7.4 3 9.8 2.8 11.6 2"/>
</g>
</g>
<path d="M-6.62 -10.60A12.5 12.5 0 1 0 6.25 10.83" fill="none" stroke="#0a1a22" stroke-width="1" opacity="0.8"/>
</g>
<g stroke="#3a3a3a" stroke-width="0.9" fill="none" stroke-linecap="round">
<path d="M205.9 30.6V12.2M208 30.4L223.6 29.2M205.9 30.8L213.9 34.6"/>
<path d="M207.6 25.3h5.8v4.6" stroke-width="0.7"/>
</g>
<path d="M205.4 25h2.6v6h-2.6z" fill="#333"/>
<g font-size="5.4" fill="#3a3a3a" text-anchor="middle"><text x="205.9" y="9.6">Y</text><text x="228.2" y="31.1">X</text><text x="216.6" y="37.9">Z</text></g>
<rect x="207.8" y="89.9" width="10.2" height="82.4" fill="url(#cbar)"/>
<text x="224.8" y="83.8" font-size="6.6" text-anchor="middle" fill="#222">Mach</text>
<g font-size="6.6" fill="#222">
<text x="223.8" y="174.9">0</text>
<text x="223.8" y="166.6">1</text>
<text x="223.8" y="158.4">2</text>
<text x="223.8" y="150.1">3</text>
<text x="223.8" y="141.9">4</text>
<text x="223.8" y="133.6">5</text>
<text x="223.8" y="125.3">6</text>
<text x="223.8" y="117.1">7</text>
<text x="223.8" y="108.8">8</text>
<text x="223.8" y="100.6">9</text>
<text x="223.8" y="92.3">10</text>
</g>
</g>
<rect x="322.3" y="231.7" width="214.2" height="164.7" fill="none" stroke="#666" stroke-width="0.6"/>
<path d="M322.3 396.4v-3.0M322.3 231.7v3.0M329.4 396.4v-1.5M329.4 231.7v1.5M336.6 396.4v-1.5M336.6 231.7v1.5M343.7 396.4v-1.5M343.7 231.7v1.5M350.9 396.4v-1.5M350.9 231.7v1.5M358.0 396.4v-3.0M358.0 231.7v3.0M365.1 396.4v-1.5M365.1 231.7v1.5M372.3 396.4v-1.5M372.3 231.7v1.5M379.4 396.4v-1.5M379.4 231.7v1.5M386.6 396.4v-1.5M386.6 231.7v1.5M393.7 396.4v-3.0M393.7 231.7v3.0M400.8 396.4v-1.5M400.8 231.7v1.5M408.0 396.4v-1.5M408.0 231.7v1.5M415.1 396.4v-1.5M415.1 231.7v1.5M422.3 396.4v-1.5M422.3 231.7v1.5M429.4 396.4v-3.0M429.4 231.7v3.0M436.5 396.4v-1.5M436.5 231.7v1.5M443.7 396.4v-1.5M443.7 231.7v1.5M450.8 396.4v-1.5M450.8 231.7v1.5M458.0 396.4v-1.5M458.0 231.7v1.5M465.1 396.4v-3.0M465.1 231.7v3.0M472.2 396.4v-1.5M472.2 231.7v1.5M479.4 396.4v-1.5M479.4 231.7v1.5M486.5 396.4v-1.5M486.5 231.7v1.5M493.7 396.4v-1.5M493.7 231.7v1.5M500.8 396.4v-3.0M500.8 231.7v3.0M507.9 396.4v-1.5M507.9 231.7v1.5M515.1 396.4v-1.5M515.1 231.7v1.5M522.2 396.4v-1.5M522.2 231.7v1.5M529.4 396.4v-1.5M529.4 231.7v1.5M536.5 396.4v-3.0M536.5 231.7v3.0M322.3 396.4h3.0M536.5 396.4h-3.0M322.3 392.3h1.5M536.5 392.3h-1.5M322.3 388.2h1.5M536.5 388.2h-1.5M322.3 384.0h1.5M536.5 384.0h-1.5M322.3 379.9h1.5M536.5 379.9h-1.5M322.3 375.8h3.0M536.5 375.8h-3.0M322.3 371.7h1.5M536.5 371.7h-1.5M322.3 367.6h1.5M536.5 367.6h-1.5M322.3 363.5h1.5M536.5 363.5h-1.5M322.3 359.3h1.5M536.5 359.3h-1.5M322.3 355.2h3.0M536.5 355.2h-3.0M322.3 351.1h1.5M536.5 351.1h-1.5M322.3 347.0h1.5M536.5 347.0h-1.5M322.3 342.9h1.5M536.5 342.9h-1.5M322.3 338.8h1.5M536.5 338.8h-1.5M322.3 334.6h3.0M536.5 334.6h-3.0M322.3 330.5h1.5M536.5 330.5h-1.5M322.3 326.4h1.5M536.5 326.4h-1.5M322.3 322.3h1.5M536.5 322.3h-1.5M322.3 318.2h1.5M536.5 318.2h-1.5M322.3 314.0h3.0M536.5 314.0h-3.0M322.3 309.9h1.5M536.5 309.9h-1.5M322.3 305.8h1.5M536.5 305.8h-1.5M322.3 301.7h1.5M536.5 301.7h-1.5M322.3 297.6h1.5M536.5 297.6h-1.5M322.3 293.5h3.0M536.5 293.5h-3.0M322.3 289.3h1.5M536.5 289.3h-1.5M322.3 285.2h1.5M536.5 285.2h-1.5M322.3 281.1h1.5M536.5 281.1h-1.5M322.3 277.0h1.5M536.5 277.0h-1.5M322.3 272.9h3.0M536.5 272.9h-3.0M322.3 268.8h1.5M536.5 268.8h-1.5M322.3 264.6h1.5M536.5 264.6h-1.5M322.3 260.5h1.5M536.5 260.5h-1.5M322.3 256.4h1.5M536.5 256.4h-1.5M322.3 252.3h3.0M536.5 252.3h-3.0M322.3 248.2h1.5M536.5 248.2h-1.5M322.3 244.1h1.5M536.5 244.1h-1.5M322.3 239.9h1.5M536.5 239.9h-1.5M322.3 235.8h1.5M536.5 235.8h-1.5M322.3 231.7h3.0M536.5 231.7h-3.0" stroke="#666" stroke-width="0.5" fill="none"/>
<g font-size="8.4" fill="#222">
<text x="322.3" y="406.6" text-anchor="middle">0</text>
<text x="358.0" y="406.6" text-anchor="middle">500</text>
<text x="393.7" y="406.6" text-anchor="middle">1000</text>
<text x="429.4" y="406.6" text-anchor="middle">1500</text>
<text x="465.1" y="406.6" text-anchor="middle">2000</text>
<text x="500.8" y="406.6" text-anchor="middle">2500</text>
<text x="536.5" y="406.6" text-anchor="middle">3000</text>
<text x="320.2" y="399.4" text-anchor="end">100</text>
<text x="320.2" y="378.8" text-anchor="end">150</text>
<text x="320.2" y="358.2" text-anchor="end">200</text>
<text x="320.2" y="337.6" text-anchor="end">250</text>
<text x="320.2" y="317.0" text-anchor="end">300</text>
<text x="320.2" y="296.5" text-anchor="end">350</text>
<text x="320.2" y="275.9" text-anchor="end">400</text>
<text x="320.2" y="255.3" text-anchor="end">450</text>
<text x="320.2" y="234.7" text-anchor="end">500</text>
</g>
<text x="429.5" y="416.5" font-size="9" font-weight="bold" text-anchor="middle" fill="#111">x-component of velocity [m/s]</text>
<text transform="translate(300.2 314) rotate(-90)" font-size="9" font-weight="bold" text-anchor="middle" fill="#111">y [mm]</text>
<path d="M400.8 396.2L401.7 396.2L402.8 396.2L404.2 396.1L405.9 396.0L407.8 395.8L410.0 395.4L412.6 394.8L415.6 394.0L418.9 393.1L422.3 392.2L425.7 391.1L429.0 390.0L432.2 388.9L435.3 387.6L438.5 386.4L441.7 385.0L444.8 383.5L448.0 382.0L451.2 380.4L454.4 378.7L457.6 377.0L460.8 375.1L463.9 373.1L467.0 371.0L470.0 368.7L473.0 366.2L475.9 363.6L478.7 361.0L481.5 358.3L484.0 355.6L486.4 352.8L488.8 349.9L491.0 346.9L493.0 344.1L494.9 341.4L496.5 339.0L497.8 337.0L498.9 335.3L499.7 333.7L500.5 332.3L501.2 330.9L502.0 329.5L502.8 328.1L503.7 326.9L504.5 325.6L505.2 324.4L506.0 322.9L506.7 321.3L507.4 319.4L508.0 317.3L508.6 315.1L509.2 312.7L509.8 310.4L510.3 308.0L510.8 305.6L511.3 303.2L511.7 300.7L512.1 298.1L512.6 295.6L513.0 293.0L513.5 290.4L513.9 287.8L514.4 285.1L514.9 282.4L515.4 279.7L515.8 277.0L516.2 274.2L516.6 271.3L517.0 268.4L517.3 265.6L517.7 262.7L518.0 260.0L518.3 257.4L518.6 254.8L518.9 252.3L519.2 249.8L519.5 247.4L519.8 245.0L520.1 242.5L520.3 239.9L520.6 237.4L520.9 235.1L521.1 233.1L521.2 231.7L521.2 231.7" fill="none" stroke="#999" stroke-width="0.7"/>
<g fill="#fff" fill-opacity="0.6" stroke="#999" stroke-width="0.6"><circle cx="400.8" cy="396.2" r="1.5"/><circle cx="407.4" cy="395.9" r="1.5"/><circle cx="413.7" cy="394.5" r="1.5"/><circle cx="419.9" cy="392.9" r="1.5"/><circle cx="426.0" cy="391.0" r="1.5"/><circle cx="431.8" cy="389.0" r="1.5"/><circle cx="437.5" cy="386.8" r="1.5"/><circle cx="443.1" cy="384.4" r="1.5"/><circle cx="448.4" cy="381.8" r="1.5"/><circle cx="453.6" cy="379.1" r="1.5"/><circle cx="458.7" cy="376.4" r="1.5"/><circle cx="463.5" cy="373.4" r="1.5"/><circle cx="468.1" cy="370.2" r="1.5"/><circle cx="472.4" cy="366.7" r="1.5"/><circle cx="476.4" cy="363.2" r="1.5"/><circle cx="480.3" cy="359.5" r="1.5"/><circle cx="483.9" cy="355.7" r="1.5"/><circle cx="487.3" cy="351.7" r="1.5"/><circle cx="490.4" cy="347.7" r="1.5"/><circle cx="493.3" cy="343.6" r="1.5"/><circle cx="496.2" cy="339.5" r="1.5"/><circle cx="498.8" cy="335.4" r="1.5"/><circle cx="501.1" cy="331.2" r="1.5"/><circle cx="503.5" cy="327.1" r="1.5"/><circle cx="505.9" cy="323.1" r="1.5"/><circle cx="507.6" cy="318.8" r="1.5"/><circle cx="508.8" cy="314.5" r="1.5"/><circle cx="509.8" cy="310.2" r="1.5"/><circle cx="510.7" cy="305.9" r="1.5"/><circle cx="511.5" cy="301.6" r="1.5"/><circle cx="512.2" cy="297.4" r="1.5"/><circle cx="513.0" cy="293.3" r="1.5"/><circle cx="513.7" cy="289.2" r="1.5"/><circle cx="514.4" cy="285.2" r="1.5"/><circle cx="515.1" cy="281.3" r="1.5"/><circle cx="515.7" cy="277.4" r="1.5"/><circle cx="516.3" cy="273.5" r="1.5"/><circle cx="516.8" cy="269.7" r="1.5"/><circle cx="517.3" cy="266.0" r="1.5"/><circle cx="517.7" cy="262.3" r="1.5"/><circle cx="518.2" cy="258.6" r="1.5"/><circle cx="518.6" cy="255.1" r="1.5"/><circle cx="519.0" cy="251.5" r="1.5"/><circle cx="519.4" cy="248.1" r="1.5"/><circle cx="519.8" cy="244.6" r="1.5"/><circle cx="520.2" cy="241.3" r="1.5"/><circle cx="520.6" cy="237.9" r="1.5"/><circle cx="520.9" cy="234.7" r="1.5"/></g>
<path d="M450.7 396.0L465.0 394.0L476.0 392.0L483.8 390.0L488.0 387.0L491.4 383.6L494.5 378.0L497.8 370.9L502.9 358.0L509.0 339.0L514.0 321.0L517.5 300.0L519.5 275.0L520.6 250.0L521.0 231.7" fill="none" stroke="#f2a840" stroke-width="0.6" stroke-dasharray="1.6 1.3"/>
<path d="M478.7 396.0L490.0 394.5L500.0 393.2L504.5 392.3L506.5 390.5L507.0 388.5L507.3 380.0L508.0 371.0L510.2 358.0L513.0 345.0L517.4 321.0L519.3 295.0L520.4 265.0L521.0 231.7" fill="none" stroke="#4a5ae8" stroke-width="0.6" stroke-dasharray="3 1.2 0.8 1.2"/>
<path d="M498.0 396.0L506.0 394.2L511.0 393.0L512.0 391.5L511.8 388.0L512.3 371.0L514.8 345.0L518.0 321.0L519.8 290.0L520.6 260.0L521.0 231.7" fill="none" stroke="#ec5548" stroke-width="0.6" stroke-dasharray="1.6 1.3"/>
<path d="M494.0 396.0L505.0 394.6L513.0 393.6L515.6 392.8L515.2 390.0L515.0 371.0L517.0 345.0L519.0 321.0L520.3 290.0L520.8 260.0L521.1 231.7" fill="none" stroke="#333" stroke-width="0.6"/>
<path d="M348 253.6H385.4" stroke="#999" stroke-width="0.7"/><circle cx="367" cy="253.6" r="1.5" fill="#ddd" stroke="#999" stroke-width="0.6"/>
<path d="M348 263.5H385.4" stroke="#f2a840" stroke-width="0.6" stroke-dasharray="1.6 1.3"/>
<path d="M348 273.6H385.4" stroke="#4a5ae8" stroke-width="0.6" stroke-dasharray="3 1.2 0.8 1.2"/>
<path d="M348 283.6H385.4" stroke="#ec5548" stroke-width="0.6" stroke-dasharray="1.6 1.3"/>
<path d="M348 293.7H385.4" stroke="#333" stroke-width="0.6"/>
<text class="leg" x="391.8" y="256.2">W=0.00</text>
<text class="leg" x="391.8" y="266.1">W=0.25</text>
<text class="leg" x="391.8" y="276.2">W=0.50</text>
<text class="leg" x="391.8" y="286.2">W=0.75</text>
<text class="leg" x="391.8" y="296.3">W=1.00</text>
<text class="cap" x="84.5" y="214.6" textLength="58.6"><tspan font-weight="bold">(c)</tspan> <tspan font-style="italic">W</tspan> = 0.50</text>
<text class="cap" x="387.6" y="214.7" textLength="60.5"><tspan font-weight="bold">(d)</tspan> <tspan font-style="italic">W</tspan> = 0.75</text>
<text class="cap" x="84.7" y="434.7" textLength="58.5"><tspan font-weight="bold">(e)</tspan> <tspan font-style="italic">W</tspan> = 1.00</text>
<text class="cap" x="370" y="434.8" textLength="96.5"><tspan font-weight="bold">(f)</tspan> velocity profiles</text>
</svg>
</body></html>
